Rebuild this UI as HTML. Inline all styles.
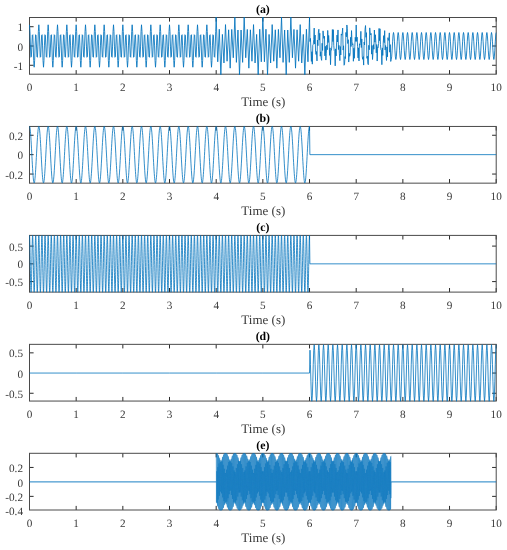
<!DOCTYPE html>
<html><head><meta charset="utf-8"><title>Signal components</title>
<style>
html,body{margin:0;padding:0;background:#fff;}
svg{display:block;}
text{font-family:"Liberation Serif",serif;fill:#3a3a3a;text-rendering:geometricPrecision;}
.tk{font-size:11.2px;}
.lb{font-size:13px;}
.tt{font-size:11.8px;font-weight:bold;fill:#000;}
.ax{fill:none;stroke:#4a4a4a;stroke-width:1.0;}
.tkm{fill:none;stroke:#2a2a2a;stroke-width:1.0;}
.ln{fill:none;stroke:#0072BD;stroke-width:0.9;stroke-linejoin:round;}
</style></head><body>
<svg width="507" height="550" viewBox="0 0 507 550">
<rect width="507" height="550" fill="#fff"/>
<g id="ax0">
<clipPath id="cp0"><rect x="29.0" y="16.90" width="467.7" height="57.90"/></clipPath>
<path class="tkm" d="M29.50 74.20v-4.1M29.50 17.50v4.1M76.17 74.20v-4.1M76.17 17.50v4.1M122.84 74.20v-4.1M122.84 17.50v4.1M169.51 74.20v-4.1M169.51 17.50v4.1M216.18 74.20v-4.1M216.18 17.50v4.1M262.85 74.20v-4.1M262.85 17.50v4.1M309.52 74.20v-4.1M309.52 17.50v4.1M356.19 74.20v-4.1M356.19 17.50v4.1M402.86 74.20v-4.1M402.86 17.50v4.1M449.53 74.20v-4.1M449.53 17.50v4.1M496.20 74.20v-4.1M496.20 17.50v4.1M29.50 26.72h4.1M496.20 26.72h-4.1M29.50 46.00h4.1M496.20 46.00h-4.1M29.50 65.28h4.1M496.20 65.28h-4.1"/>
<rect class="ax" x="29.5" y="17.50" width="466.70" height="56.70"/>
<g clip-path="url(#cp0)"><path class="ln" style="stroke-width:0.85" d="M29.50 24.79 L29.97 31.43 L30.43 46.09 L30.90 57.27 L31.37 56.69 L31.83 46.00 L32.30 35.31 L32.77 34.73 L33.23 45.91 L33.70 60.57 L34.17 67.21 L34.63 60.57 L35.10 45.91 L35.57 34.73 L36.03 35.31 L36.50 46.00 L36.97 56.69 L37.43 57.27 L37.90 46.09 L38.37 31.43 L38.83 24.79 L39.30 31.43 L39.77 46.09 L40.23 57.27 L40.70 56.69 L41.17 46.00 L41.63 35.31 L42.10 34.73 L42.57 45.91 L43.03 60.57 L43.50 67.21 L43.97 60.57 L44.43 45.91 L44.90 34.73 L45.37 35.31 L45.83 46.00 L46.30 56.69 L46.77 57.27 L47.23 46.09 L47.70 31.43 L48.17 24.79 L48.63 31.43 L49.10 46.09 L49.57 57.27 L50.03 56.69 L50.50 46.00 L50.97 35.31 L51.43 34.73 L51.90 45.91 L52.37 60.57 L52.84 67.21 L53.30 60.57 L53.77 45.91 L54.24 34.73 L54.70 35.31 L55.17 46.00 L55.64 56.69 L56.10 57.27 L56.57 46.09 L57.04 31.43 L57.50 24.79 L57.97 31.43 L58.44 46.09 L58.90 57.27 L59.37 56.69 L59.84 46.00 L60.30 35.31 L60.77 34.73 L61.24 45.91 L61.70 60.57 L62.17 67.21 L62.64 60.57 L63.10 45.91 L63.57 34.73 L64.04 35.31 L64.50 46.00 L64.97 56.69 L65.44 57.27 L65.90 46.09 L66.37 31.43 L66.84 24.79 L67.30 31.43 L67.77 46.09 L68.24 57.27 L68.70 56.69 L69.17 46.00 L69.64 35.31 L70.10 34.73 L70.57 45.91 L71.04 60.57 L71.50 67.21 L71.97 60.57 L72.44 45.91 L72.90 34.73 L73.37 35.31 L73.84 46.00 L74.30 56.69 L74.77 57.27 L75.24 46.09 L75.70 31.43 L76.17 24.79 L76.64 31.43 L77.10 46.09 L77.57 57.27 L78.04 56.69 L78.50 46.00 L78.97 35.31 L79.44 34.73 L79.90 45.91 L80.37 60.57 L80.84 67.21 L81.30 60.57 L81.77 45.91 L82.24 34.73 L82.70 35.31 L83.17 46.00 L83.64 56.69 L84.10 57.27 L84.57 46.09 L85.04 31.43 L85.50 24.79 L85.97 31.43 L86.44 46.09 L86.90 57.27 L87.37 56.69 L87.84 46.00 L88.30 35.31 L88.77 34.73 L89.24 45.91 L89.70 60.57 L90.17 67.21 L90.64 60.57 L91.10 45.91 L91.57 34.73 L92.04 35.31 L92.50 46.00 L92.97 56.69 L93.44 57.27 L93.90 46.09 L94.37 31.43 L94.84 24.79 L95.30 31.43 L95.77 46.09 L96.24 57.27 L96.70 56.69 L97.17 46.00 L97.64 35.31 L98.10 34.73 L98.57 45.91 L99.04 60.57 L99.50 67.21 L99.97 60.57 L100.44 45.91 L100.91 34.73 L101.37 35.31 L101.84 46.00 L102.31 56.69 L102.77 57.27 L103.24 46.09 L103.71 31.43 L104.17 24.79 L104.64 31.43 L105.11 46.09 L105.57 57.27 L106.04 56.69 L106.51 46.00 L106.97 35.31 L107.44 34.73 L107.91 45.91 L108.37 60.57 L108.84 67.21 L109.31 60.57 L109.77 45.91 L110.24 34.73 L110.71 35.31 L111.17 46.00 L111.64 56.69 L112.11 57.27 L112.57 46.09 L113.04 31.43 L113.51 24.79 L113.97 31.43 L114.44 46.09 L114.91 57.27 L115.37 56.69 L115.84 46.00 L116.31 35.31 L116.77 34.73 L117.24 45.91 L117.71 60.57 L118.17 67.21 L118.64 60.57 L119.11 45.91 L119.57 34.73 L120.04 35.31 L120.51 46.00 L120.97 56.69 L121.44 57.27 L121.91 46.09 L122.37 31.43 L122.84 24.79 L123.31 31.43 L123.77 46.09 L124.24 57.27 L124.71 56.69 L125.17 46.00 L125.64 35.31 L126.11 34.73 L126.57 45.91 L127.04 60.57 L127.51 67.21 L127.97 60.57 L128.44 45.91 L128.91 34.73 L129.37 35.31 L129.84 46.00 L130.31 56.69 L130.77 57.27 L131.24 46.09 L131.71 31.43 L132.17 24.79 L132.64 31.43 L133.11 46.09 L133.57 57.27 L134.04 56.69 L134.51 46.00 L134.97 35.31 L135.44 34.73 L135.91 45.91 L136.37 60.57 L136.84 67.21 L137.31 60.57 L137.77 45.91 L138.24 34.73 L138.71 35.31 L139.17 46.00 L139.64 56.69 L140.11 57.27 L140.57 46.09 L141.04 31.43 L141.51 24.79 L141.97 31.43 L142.44 46.09 L142.91 57.27 L143.37 56.69 L143.84 46.00 L144.31 35.31 L144.77 34.73 L145.24 45.91 L145.71 60.57 L146.18 67.21 L146.64 60.57 L147.11 45.91 L147.58 34.73 L148.04 35.31 L148.51 46.00 L148.98 56.69 L149.44 57.27 L149.91 46.09 L150.38 31.43 L150.84 24.79 L151.31 31.43 L151.78 46.09 L152.24 57.27 L152.71 56.69 L153.18 46.00 L153.64 35.31 L154.11 34.73 L154.58 45.91 L155.04 60.57 L155.51 67.21 L155.98 60.57 L156.44 45.91 L156.91 34.73 L157.38 35.31 L157.84 46.00 L158.31 56.69 L158.78 57.27 L159.24 46.09 L159.71 31.43 L160.18 24.79 L160.64 31.43 L161.11 46.09 L161.58 57.27 L162.04 56.69 L162.51 46.00 L162.98 35.31 L163.44 34.73 L163.91 45.91 L164.38 60.57 L164.84 67.21 L165.31 60.57 L165.78 45.91 L166.24 34.73 L166.71 35.31 L167.18 46.00 L167.64 56.69 L168.11 57.27 L168.58 46.09 L169.04 31.43 L169.51 24.79 L169.98 31.43 L170.44 46.09 L170.91 57.27 L171.38 56.69 L171.84 46.00 L172.31 35.31 L172.78 34.73 L173.24 45.91 L173.71 60.57 L174.18 67.21 L174.64 60.57 L175.11 45.91 L175.58 34.73 L176.04 35.31 L176.51 46.00 L176.98 56.69 L177.44 57.27 L177.91 46.09 L178.38 31.43 L178.84 24.79 L179.31 31.43 L179.78 46.09 L180.24 57.27 L180.71 56.69 L181.18 46.00 L181.64 35.31 L182.11 34.73 L182.58 45.91 L183.04 60.57 L183.51 67.21 L183.98 60.57 L184.44 45.91 L184.91 34.73 L185.38 35.31 L185.84 46.00 L186.31 56.69 L186.78 57.27 L187.24 46.09 L187.71 31.43 L188.18 24.79 L188.64 31.43 L189.11 46.09 L189.58 57.27 L190.04 56.69 L190.51 46.00 L190.98 35.31 L191.44 34.73 L191.91 45.91 L192.38 60.57 L192.84 67.21 L193.31 60.57 L193.78 45.91 L194.25 34.73 L194.71 35.31 L195.18 46.00 L195.65 56.69 L196.11 57.27 L196.58 46.09 L197.05 31.43 L197.51 24.79 L197.98 31.43 L198.45 46.09 L198.91 57.27 L199.38 56.69 L199.85 46.00 L200.31 35.31 L200.78 34.73 L201.25 45.91 L201.71 60.57 L202.18 67.21 L202.65 60.57 L203.11 45.91 L203.58 34.73 L204.05 35.31 L204.51 46.00 L204.98 56.69 L205.45 57.27 L205.91 46.09 L206.38 31.43 L206.85 24.79 L207.31 31.43 L207.78 46.09 L208.25 57.27 L208.71 56.69 L209.18 46.00 L209.65 35.31 L210.11 34.73 L210.58 45.91 L211.05 60.57 L211.51 67.21 L211.98 60.57 L212.45 45.91 L212.91 34.73 L213.38 35.31 L213.85 46.00 L214.31 56.69 L214.78 57.27 L215.25 46.09 L215.71 31.43 L216.18 17.08 L217.74 61.81 L219.29 29.23 L220.85 74.92 L222.40 34.43 L223.96 62.97 L225.51 24.60 L227.07 61.23 L228.63 29.80 L230.18 68.17 L231.74 29.42 L233.29 57.76 L234.85 17.08 L236.40 62.39 L237.96 30.00 L239.51 74.92 L241.07 30.00 L242.63 62.39 L244.18 17.08 L245.74 57.76 L247.29 29.42 L248.85 68.17 L250.40 29.80 L251.96 61.23 L253.52 24.60 L255.07 62.97 L256.63 34.43 L258.18 74.92 L259.74 29.23 L261.29 61.81 L262.85 17.08 L264.41 61.81 L265.96 29.23 L267.52 74.92 L269.07 34.43 L270.63 62.97 L272.18 24.60 L273.74 61.23 L275.30 29.80 L276.85 68.17 L278.41 29.42 L279.96 57.76 L281.52 17.08 L283.07 62.39 L284.63 30.00 L286.19 74.92 L287.74 30.00 L289.30 62.39 L290.85 17.08 L292.41 57.76 L293.96 29.42 L295.52 68.17 L297.07 29.80 L298.63 61.23 L300.19 24.60 L301.74 62.97 L303.30 34.43 L304.85 74.92 L306.41 29.23 L307.96 61.81 L309.52 17.08 L309.99 41.55 L310.45 38.39 L310.92 48.90 L311.39 61.42 L311.85 51.70 L312.32 64.15 L312.79 45.22 L313.25 44.30 L313.72 39.51 L314.19 28.07 L314.65 44.08 L315.12 35.07 L315.59 52.26 L316.05 54.47 L316.52 51.53 L316.99 60.90 L317.45 40.04 L317.92 45.68 L318.39 32.03 L318.85 29.23 L319.32 40.12 L319.79 33.26 L320.25 56.20 L320.72 51.82 L321.19 58.52 L321.65 60.36 L322.12 43.25 L322.59 50.46 L323.05 30.87 L323.52 36.90 L323.99 38.44 L324.45 36.16 L324.92 55.85 L325.39 46.36 L325.85 60.07 L326.32 53.22 L326.79 45.17 L327.25 49.69 L327.72 30.42 L328.19 42.51 L328.65 35.45 L329.12 42.12 L329.59 55.36 L330.05 47.88 L330.52 64.70 L330.99 50.20 L331.45 50.20 L331.92 45.25 L332.39 29.57 L332.86 41.55 L333.32 29.68 L333.79 45.65 L334.26 50.96 L334.72 51.25 L335.19 65.86 L335.66 48.87 L336.12 55.92 L336.59 42.14 L337.06 35.04 L337.52 41.93 L337.99 29.95 L338.46 49.51 L338.92 45.35 L339.39 53.69 L339.86 60.65 L340.32 46.54 L340.79 54.97 L341.26 33.96 L341.72 35.19 L342.19 33.24 L342.66 28.11 L343.12 50.06 L343.59 45.77 L344.06 65.24 L344.52 64.30 L344.99 56.64 L345.46 58.52 L345.92 32.48 L346.39 36.84 L346.86 24.98 L347.32 28.36 L347.79 43.50 L348.26 39.71 L348.72 62.06 L349.19 53.26 L349.66 56.28 L350.12 54.26 L350.59 37.31 L351.06 46.52 L351.52 30.58 L351.99 41.44 L352.46 44.74 L352.92 43.81 L353.39 61.25 L353.86 48.23 L354.32 58.30 L354.79 46.70 L355.26 37.31 L355.72 41.39 L356.19 24.98 L356.66 41.36 L357.12 37.18 L357.59 46.45 L358.06 57.95 L358.52 47.85 L358.99 60.97 L359.46 43.82 L359.92 45.11 L360.39 42.11 L360.86 31.35 L361.32 47.53 L361.79 38.94 L362.26 56.67 L362.72 59.31 L363.19 56.54 L363.66 65.08 L364.12 42.05 L364.59 45.01 L365.06 29.19 L365.52 25.56 L365.99 37.31 L366.46 32.66 L366.92 58.34 L367.39 56.18 L367.86 63.73 L368.32 64.70 L368.79 45.32 L369.26 49.74 L369.72 27.88 L370.19 33.05 L370.66 34.90 L371.12 33.44 L371.59 54.14 L372.06 45.47 L372.52 59.50 L372.99 52.66 L373.46 44.66 L373.92 49.24 L374.39 30.01 L374.86 42.13 L375.32 34.75 L375.79 40.60 L376.26 52.83 L376.72 44.53 L377.19 61.04 L377.66 46.81 L378.12 47.51 L378.59 43.42 L379.06 28.44 L379.52 40.68 L379.99 28.79 L380.46 44.68 L380.93 49.90 L381.39 50.12 L381.86 64.70 L382.33 47.90 L382.79 55.43 L383.26 42.24 L383.73 35.62 L384.19 42.71 L384.66 30.63 L385.13 49.95 L385.59 45.49 L386.06 53.58 L386.53 60.46 L386.99 46.91 L387.46 56.84 L387.93 37.68 L388.39 40.40 L388.86 39.02 L389.33 32.88 L389.79 52.19 L390.26 44.62 L390.73 61.45 L391.19 59.50 L391.66 56.92 L392.13 50.17 L392.59 41.83 L393.06 35.08 L393.53 32.50 L393.99 35.08 L394.46 41.83 L394.93 50.17 L395.39 56.92 L395.86 59.50 L396.33 56.92 L396.79 50.17 L397.26 41.83 L397.73 35.08 L398.19 32.50 L398.66 35.08 L399.13 41.83 L399.59 50.17 L400.06 56.92 L400.53 59.50 L400.99 56.92 L401.46 50.17 L401.93 41.83 L402.39 35.08 L402.86 32.50 L403.33 35.08 L403.79 41.83 L404.26 50.17 L404.73 56.92 L405.19 59.50 L405.66 56.92 L406.13 50.17 L406.59 41.83 L407.06 35.08 L407.53 32.50 L407.99 35.08 L408.46 41.83 L408.93 50.17 L409.39 56.92 L409.86 59.50 L410.33 56.92 L410.79 50.17 L411.26 41.83 L411.73 35.08 L412.19 32.50 L412.66 35.08 L413.13 41.83 L413.59 50.17 L414.06 56.92 L414.53 59.50 L414.99 56.92 L415.46 50.17 L415.93 41.83 L416.39 35.08 L416.86 32.50 L417.33 35.08 L417.79 41.83 L418.26 50.17 L418.73 56.92 L419.19 59.50 L419.66 56.92 L420.13 50.17 L420.59 41.83 L421.06 35.08 L421.53 32.50 L421.99 35.08 L422.46 41.83 L422.93 50.17 L423.39 56.92 L423.86 59.50 L424.33 56.92 L424.79 50.17 L425.26 41.83 L425.73 35.08 L426.19 32.50 L426.66 35.08 L427.13 41.83 L427.60 50.17 L428.06 56.92 L428.53 59.50 L429.00 56.92 L429.46 50.17 L429.93 41.83 L430.40 35.08 L430.86 32.50 L431.33 35.08 L431.80 41.83 L432.26 50.17 L432.73 56.92 L433.20 59.50 L433.66 56.92 L434.13 50.17 L434.60 41.83 L435.06 35.08 L435.53 32.50 L436.00 35.08 L436.46 41.83 L436.93 50.17 L437.40 56.92 L437.86 59.50 L438.33 56.92 L438.80 50.17 L439.26 41.83 L439.73 35.08 L440.20 32.50 L440.66 35.08 L441.13 41.83 L441.60 50.17 L442.06 56.92 L442.53 59.50 L443.00 56.92 L443.46 50.17 L443.93 41.83 L444.40 35.08 L444.86 32.50 L445.33 35.08 L445.80 41.83 L446.26 50.17 L446.73 56.92 L447.20 59.50 L447.66 56.92 L448.13 50.17 L448.60 41.83 L449.06 35.08 L449.53 32.50 L450.00 35.08 L450.46 41.83 L450.93 50.17 L451.40 56.92 L451.86 59.50 L452.33 56.92 L452.80 50.17 L453.26 41.83 L453.73 35.08 L454.20 32.50 L454.66 35.08 L455.13 41.83 L455.60 50.17 L456.06 56.92 L456.53 59.50 L457.00 56.92 L457.46 50.17 L457.93 41.83 L458.40 35.08 L458.86 32.50 L459.33 35.08 L459.80 41.83 L460.26 50.17 L460.73 56.92 L461.20 59.50 L461.66 56.92 L462.13 50.17 L462.60 41.83 L463.06 35.08 L463.53 32.50 L464.00 35.08 L464.46 41.83 L464.93 50.17 L465.40 56.92 L465.86 59.50 L466.33 56.92 L466.80 50.17 L467.26 41.83 L467.73 35.08 L468.20 32.50 L468.66 35.08 L469.13 41.83 L469.60 50.17 L470.06 56.92 L470.53 59.50 L471.00 56.92 L471.46 50.17 L471.93 41.83 L472.40 35.08 L472.86 32.50 L473.33 35.08 L473.80 41.83 L474.27 50.17 L474.73 56.92 L475.20 59.50 L475.67 56.92 L476.13 50.17 L476.60 41.83 L477.07 35.08 L477.53 32.50 L478.00 35.08 L478.47 41.83 L478.93 50.17 L479.40 56.92 L479.87 59.50 L480.33 56.92 L480.80 50.17 L481.27 41.83 L481.73 35.08 L482.20 32.50 L482.67 35.08 L483.13 41.83 L483.60 50.17 L484.07 56.92 L484.53 59.50 L485.00 56.92 L485.47 50.17 L485.93 41.83 L486.40 35.08 L486.87 32.50 L487.33 35.08 L487.80 41.83 L488.27 50.17 L488.73 56.92 L489.20 59.50 L489.67 56.92 L490.13 50.17 L490.60 41.83 L491.07 35.08 L491.53 32.50 L492.00 35.08 L492.47 41.83 L492.93 50.17 L493.40 56.92 L493.87 59.50 L494.33 56.92 L494.80 50.17 L495.27 41.83 L495.73 35.08 L496.20 32.50"/></g>
<text class="tk" text-anchor="middle" x="29.50" y="90.70">0</text>
<text class="tk" text-anchor="middle" x="76.17" y="90.70">1</text>
<text class="tk" text-anchor="middle" x="122.84" y="90.70">2</text>
<text class="tk" text-anchor="middle" x="169.51" y="90.70">3</text>
<text class="tk" text-anchor="middle" x="216.18" y="90.70">4</text>
<text class="tk" text-anchor="middle" x="262.85" y="90.70">5</text>
<text class="tk" text-anchor="middle" x="309.52" y="90.70">6</text>
<text class="tk" text-anchor="middle" x="356.19" y="90.70">7</text>
<text class="tk" text-anchor="middle" x="402.86" y="90.70">8</text>
<text class="tk" text-anchor="middle" x="449.53" y="90.70">9</text>
<text class="tk" text-anchor="middle" x="496.20" y="90.70">10</text>
<text class="tk" text-anchor="end" x="23.0" y="31.32">1</text>
<text class="tk" text-anchor="end" x="23.0" y="50.60">0</text>
<text class="tk" text-anchor="end" x="23.0" y="69.88">-1</text>
<text class="lb" text-anchor="middle" x="263.35" y="106.40">Time (s)</text>
<text class="tt" text-anchor="middle" x="262.85" y="13.30">(a)</text>
</g>
<g id="ax1">
<clipPath id="cp1"><rect x="29.0" y="125.85" width="467.7" height="57.90"/></clipPath>
<path class="tkm" d="M29.50 183.15v-4.1M29.50 126.45v4.1M76.17 183.15v-4.1M76.17 126.45v4.1M122.84 183.15v-4.1M122.84 126.45v4.1M169.51 183.15v-4.1M169.51 126.45v4.1M216.18 183.15v-4.1M216.18 126.45v4.1M262.85 183.15v-4.1M262.85 126.45v4.1M309.52 183.15v-4.1M309.52 126.45v4.1M356.19 183.15v-4.1M356.19 126.45v4.1M402.86 183.15v-4.1M402.86 126.45v4.1M449.53 183.15v-4.1M449.53 126.45v4.1M496.20 183.15v-4.1M496.20 126.45v4.1M29.50 135.25h4.1M496.20 135.25h-4.1M29.50 154.65h4.1M29.50 174.05h4.1M496.20 174.05h-4.1"/>
<rect class="ax" x="29.5" y="126.45" width="466.70" height="56.70"/>
<g clip-path="url(#cp1)"><path class="ln" style="stroke-width:0.8" d="M29.50 126.33 L29.72 126.64 L29.94 127.57 L30.16 129.10 L30.38 131.20 L30.61 133.82 L30.83 136.90 L31.05 140.37 L31.27 144.15 L31.49 148.17 L31.71 152.33 L31.93 156.55 L32.15 160.72 L32.38 164.75 L32.60 168.57 L32.82 172.07 L33.04 175.19 L33.26 177.86 L33.48 180.01 L33.70 181.60 L33.92 182.59 L34.14 182.97 L34.37 182.72 L34.59 181.85 L34.81 180.37 L35.03 178.33 L35.25 175.76 L35.47 172.73 L35.69 169.30 L35.91 165.54 L36.14 161.54 L36.36 157.39 L36.58 153.17 L36.80 149.00 L37.02 144.94 L37.24 141.10 L37.46 137.56 L37.68 134.40 L37.91 131.69 L38.13 129.48 L38.35 127.83 L38.57 126.78 L38.79 126.34 L39.01 126.53 L39.23 127.34 L39.45 128.75 L39.67 130.74 L39.90 133.26 L40.12 136.25 L40.34 139.64 L40.56 143.37 L40.78 147.35 L41.00 151.49 L41.22 155.70 L41.44 159.89 L41.67 163.96 L41.89 167.83 L42.11 171.40 L42.33 174.60 L42.55 177.36 L42.77 179.62 L42.99 181.33 L43.21 182.45 L43.43 182.95 L43.66 182.82 L43.88 182.07 L44.10 180.72 L44.32 178.78 L44.54 176.32 L44.76 173.37 L44.98 170.01 L45.20 166.31 L45.43 162.35 L45.65 158.23 L45.87 154.02 L46.09 149.82 L46.31 145.74 L46.53 141.85 L46.75 138.24 L46.97 135.00 L47.19 132.19 L47.42 129.88 L47.64 128.12 L47.86 126.94 L48.08 126.38 L48.30 126.44 L48.52 127.13 L48.74 128.42 L48.96 130.30 L49.19 132.71 L49.41 135.61 L49.63 138.94 L49.85 142.61 L50.07 146.54 L50.29 150.66 L50.51 154.86 L50.73 159.06 L50.95 163.16 L51.18 167.07 L51.40 170.71 L51.62 174.00 L51.84 176.85 L52.06 179.21 L52.28 181.03 L52.50 182.27 L52.72 182.90 L52.95 182.90 L53.17 182.27 L53.39 181.03 L53.61 179.21 L53.83 176.85 L54.05 174.00 L54.27 170.71 L54.49 167.07 L54.72 163.16 L54.94 159.06 L55.16 154.86 L55.38 150.66 L55.60 146.54 L55.82 142.61 L56.04 138.94 L56.26 135.61 L56.48 132.71 L56.71 130.30 L56.93 128.42 L57.15 127.13 L57.37 126.44 L57.59 126.38 L57.81 126.94 L58.03 128.12 L58.25 129.88 L58.48 132.19 L58.70 135.00 L58.92 138.24 L59.14 141.85 L59.36 145.74 L59.58 149.82 L59.80 154.02 L60.02 158.23 L60.24 162.35 L60.47 166.31 L60.69 170.01 L60.91 173.37 L61.13 176.32 L61.35 178.78 L61.57 180.72 L61.79 182.07 L62.01 182.82 L62.24 182.95 L62.46 182.45 L62.68 181.33 L62.90 179.62 L63.12 177.36 L63.34 174.60 L63.56 171.40 L63.78 167.83 L64.00 163.96 L64.23 159.89 L64.45 155.70 L64.67 151.49 L64.89 147.35 L65.11 143.37 L65.33 139.64 L65.55 136.25 L65.77 133.26 L66.00 130.74 L66.22 128.75 L66.44 127.34 L66.66 126.53 L66.88 126.34 L67.10 126.78 L67.32 127.83 L67.54 129.48 L67.76 131.69 L67.99 134.40 L68.21 137.56 L68.43 141.10 L68.65 144.94 L68.87 149.00 L69.09 153.17 L69.31 157.39 L69.53 161.54 L69.76 165.54 L69.98 169.30 L70.20 172.73 L70.42 175.76 L70.64 178.33 L70.86 180.37 L71.08 181.85 L71.30 182.72 L71.53 182.97 L71.75 182.59 L71.97 181.60 L72.19 180.01 L72.41 177.86 L72.63 175.19 L72.85 172.07 L73.07 168.57 L73.29 164.75 L73.52 160.72 L73.74 156.55 L73.96 152.33 L74.18 148.17 L74.40 144.15 L74.62 140.37 L74.84 136.90 L75.06 133.82 L75.29 131.20 L75.51 129.10 L75.73 127.57 L75.95 126.64 L76.17 126.33 L76.39 126.64 L76.61 127.57 L76.83 129.10 L77.05 131.20 L77.28 133.82 L77.50 136.90 L77.72 140.37 L77.94 144.15 L78.16 148.17 L78.38 152.33 L78.60 156.55 L78.82 160.72 L79.05 164.75 L79.27 168.57 L79.49 172.07 L79.71 175.19 L79.93 177.86 L80.15 180.01 L80.37 181.60 L80.59 182.59 L80.81 182.97 L81.04 182.72 L81.26 181.85 L81.48 180.37 L81.70 178.33 L81.92 175.76 L82.14 172.73 L82.36 169.30 L82.58 165.54 L82.81 161.54 L83.03 157.39 L83.25 153.17 L83.47 149.00 L83.69 144.94 L83.91 141.10 L84.13 137.56 L84.35 134.40 L84.58 131.69 L84.80 129.48 L85.02 127.83 L85.24 126.78 L85.46 126.34 L85.68 126.53 L85.90 127.34 L86.12 128.75 L86.34 130.74 L86.57 133.26 L86.79 136.25 L87.01 139.64 L87.23 143.37 L87.45 147.35 L87.67 151.49 L87.89 155.70 L88.11 159.89 L88.34 163.96 L88.56 167.83 L88.78 171.40 L89.00 174.60 L89.22 177.36 L89.44 179.62 L89.66 181.33 L89.88 182.45 L90.10 182.95 L90.33 182.82 L90.55 182.07 L90.77 180.72 L90.99 178.78 L91.21 176.32 L91.43 173.37 L91.65 170.01 L91.87 166.31 L92.10 162.35 L92.32 158.23 L92.54 154.02 L92.76 149.82 L92.98 145.74 L93.20 141.85 L93.42 138.24 L93.64 135.00 L93.86 132.19 L94.09 129.88 L94.31 128.12 L94.53 126.94 L94.75 126.38 L94.97 126.44 L95.19 127.13 L95.41 128.42 L95.63 130.30 L95.86 132.71 L96.08 135.61 L96.30 138.94 L96.52 142.61 L96.74 146.54 L96.96 150.66 L97.18 154.86 L97.40 159.06 L97.62 163.16 L97.85 167.07 L98.07 170.71 L98.29 174.00 L98.51 176.85 L98.73 179.21 L98.95 181.03 L99.17 182.27 L99.39 182.90 L99.62 182.90 L99.84 182.27 L100.06 181.03 L100.28 179.21 L100.50 176.85 L100.72 174.00 L100.94 170.71 L101.16 167.07 L101.39 163.16 L101.61 159.06 L101.83 154.86 L102.05 150.66 L102.27 146.54 L102.49 142.61 L102.71 138.94 L102.93 135.61 L103.15 132.71 L103.38 130.30 L103.60 128.42 L103.82 127.13 L104.04 126.44 L104.26 126.38 L104.48 126.94 L104.70 128.12 L104.92 129.88 L105.15 132.19 L105.37 135.00 L105.59 138.24 L105.81 141.85 L106.03 145.74 L106.25 149.82 L106.47 154.02 L106.69 158.23 L106.91 162.35 L107.14 166.31 L107.36 170.01 L107.58 173.37 L107.80 176.32 L108.02 178.78 L108.24 180.72 L108.46 182.07 L108.68 182.82 L108.91 182.95 L109.13 182.45 L109.35 181.33 L109.57 179.62 L109.79 177.36 L110.01 174.60 L110.23 171.40 L110.45 167.83 L110.67 163.96 L110.90 159.89 L111.12 155.70 L111.34 151.49 L111.56 147.35 L111.78 143.37 L112.00 139.64 L112.22 136.25 L112.44 133.26 L112.67 130.74 L112.89 128.75 L113.11 127.34 L113.33 126.53 L113.55 126.34 L113.77 126.78 L113.99 127.83 L114.21 129.48 L114.43 131.69 L114.66 134.40 L114.88 137.56 L115.10 141.10 L115.32 144.94 L115.54 149.00 L115.76 153.17 L115.98 157.39 L116.20 161.54 L116.43 165.54 L116.65 169.30 L116.87 172.73 L117.09 175.76 L117.31 178.33 L117.53 180.37 L117.75 181.85 L117.97 182.72 L118.20 182.97 L118.42 182.59 L118.64 181.60 L118.86 180.01 L119.08 177.86 L119.30 175.19 L119.52 172.07 L119.74 168.57 L119.96 164.75 L120.19 160.72 L120.41 156.55 L120.63 152.33 L120.85 148.17 L121.07 144.15 L121.29 140.37 L121.51 136.90 L121.73 133.82 L121.96 131.20 L122.18 129.10 L122.40 127.57 L122.62 126.64 L122.84 126.33 L123.06 126.64 L123.28 127.57 L123.50 129.10 L123.72 131.20 L123.95 133.82 L124.17 136.90 L124.39 140.37 L124.61 144.15 L124.83 148.17 L125.05 152.33 L125.27 156.55 L125.49 160.72 L125.72 164.75 L125.94 168.57 L126.16 172.07 L126.38 175.19 L126.60 177.86 L126.82 180.01 L127.04 181.60 L127.26 182.59 L127.48 182.97 L127.71 182.72 L127.93 181.85 L128.15 180.37 L128.37 178.33 L128.59 175.76 L128.81 172.73 L129.03 169.30 L129.25 165.54 L129.48 161.54 L129.70 157.39 L129.92 153.17 L130.14 149.00 L130.36 144.94 L130.58 141.10 L130.80 137.56 L131.02 134.40 L131.25 131.69 L131.47 129.48 L131.69 127.83 L131.91 126.78 L132.13 126.34 L132.35 126.53 L132.57 127.34 L132.79 128.75 L133.01 130.74 L133.24 133.26 L133.46 136.25 L133.68 139.64 L133.90 143.37 L134.12 147.35 L134.34 151.49 L134.56 155.70 L134.78 159.89 L135.01 163.96 L135.23 167.83 L135.45 171.40 L135.67 174.60 L135.89 177.36 L136.11 179.62 L136.33 181.33 L136.55 182.45 L136.77 182.95 L137.00 182.82 L137.22 182.07 L137.44 180.72 L137.66 178.78 L137.88 176.32 L138.10 173.37 L138.32 170.01 L138.54 166.31 L138.77 162.35 L138.99 158.23 L139.21 154.02 L139.43 149.82 L139.65 145.74 L139.87 141.85 L140.09 138.24 L140.31 135.00 L140.53 132.19 L140.76 129.88 L140.98 128.12 L141.20 126.94 L141.42 126.38 L141.64 126.44 L141.86 127.13 L142.08 128.42 L142.30 130.30 L142.53 132.71 L142.75 135.61 L142.97 138.94 L143.19 142.61 L143.41 146.54 L143.63 150.66 L143.85 154.86 L144.07 159.06 L144.29 163.16 L144.52 167.07 L144.74 170.71 L144.96 174.00 L145.18 176.85 L145.40 179.21 L145.62 181.03 L145.84 182.27 L146.06 182.90 L146.29 182.90 L146.51 182.27 L146.73 181.03 L146.95 179.21 L147.17 176.85 L147.39 174.00 L147.61 170.71 L147.83 167.07 L148.06 163.16 L148.28 159.06 L148.50 154.86 L148.72 150.66 L148.94 146.54 L149.16 142.61 L149.38 138.94 L149.60 135.61 L149.82 132.71 L150.05 130.30 L150.27 128.42 L150.49 127.13 L150.71 126.44 L150.93 126.38 L151.15 126.94 L151.37 128.12 L151.59 129.88 L151.82 132.19 L152.04 135.00 L152.26 138.24 L152.48 141.85 L152.70 145.74 L152.92 149.82 L153.14 154.02 L153.36 158.23 L153.58 162.35 L153.81 166.31 L154.03 170.01 L154.25 173.37 L154.47 176.32 L154.69 178.78 L154.91 180.72 L155.13 182.07 L155.35 182.82 L155.58 182.95 L155.80 182.45 L156.02 181.33 L156.24 179.62 L156.46 177.36 L156.68 174.60 L156.90 171.40 L157.12 167.83 L157.34 163.96 L157.57 159.89 L157.79 155.70 L158.01 151.49 L158.23 147.35 L158.45 143.37 L158.67 139.64 L158.89 136.25 L159.11 133.26 L159.34 130.74 L159.56 128.75 L159.78 127.34 L160.00 126.53 L160.22 126.34 L160.44 126.78 L160.66 127.83 L160.88 129.48 L161.10 131.69 L161.33 134.40 L161.55 137.56 L161.77 141.10 L161.99 144.94 L162.21 149.00 L162.43 153.17 L162.65 157.39 L162.87 161.54 L163.10 165.54 L163.32 169.30 L163.54 172.73 L163.76 175.76 L163.98 178.33 L164.20 180.37 L164.42 181.85 L164.64 182.72 L164.87 182.97 L165.09 182.59 L165.31 181.60 L165.53 180.01 L165.75 177.86 L165.97 175.19 L166.19 172.07 L166.41 168.57 L166.63 164.75 L166.86 160.72 L167.08 156.55 L167.30 152.33 L167.52 148.17 L167.74 144.15 L167.96 140.37 L168.18 136.90 L168.40 133.82 L168.63 131.20 L168.85 129.10 L169.07 127.57 L169.29 126.64 L169.51 126.33 L169.73 126.64 L169.95 127.57 L170.17 129.10 L170.39 131.20 L170.62 133.82 L170.84 136.90 L171.06 140.37 L171.28 144.15 L171.50 148.17 L171.72 152.33 L171.94 156.55 L172.16 160.72 L172.39 164.75 L172.61 168.57 L172.83 172.07 L173.05 175.19 L173.27 177.86 L173.49 180.01 L173.71 181.60 L173.93 182.59 L174.15 182.97 L174.38 182.72 L174.60 181.85 L174.82 180.37 L175.04 178.33 L175.26 175.76 L175.48 172.73 L175.70 169.30 L175.92 165.54 L176.15 161.54 L176.37 157.39 L176.59 153.17 L176.81 149.00 L177.03 144.94 L177.25 141.10 L177.47 137.56 L177.69 134.40 L177.92 131.69 L178.14 129.48 L178.36 127.83 L178.58 126.78 L178.80 126.34 L179.02 126.53 L179.24 127.34 L179.46 128.75 L179.68 130.74 L179.91 133.26 L180.13 136.25 L180.35 139.64 L180.57 143.37 L180.79 147.35 L181.01 151.49 L181.23 155.70 L181.45 159.89 L181.68 163.96 L181.90 167.83 L182.12 171.40 L182.34 174.60 L182.56 177.36 L182.78 179.62 L183.00 181.33 L183.22 182.45 L183.44 182.95 L183.67 182.82 L183.89 182.07 L184.11 180.72 L184.33 178.78 L184.55 176.32 L184.77 173.37 L184.99 170.01 L185.21 166.31 L185.44 162.35 L185.66 158.23 L185.88 154.02 L186.10 149.82 L186.32 145.74 L186.54 141.85 L186.76 138.24 L186.98 135.00 L187.20 132.19 L187.43 129.88 L187.65 128.12 L187.87 126.94 L188.09 126.38 L188.31 126.44 L188.53 127.13 L188.75 128.42 L188.97 130.30 L189.20 132.71 L189.42 135.61 L189.64 138.94 L189.86 142.61 L190.08 146.54 L190.30 150.66 L190.52 154.86 L190.74 159.06 L190.96 163.16 L191.19 167.07 L191.41 170.71 L191.63 174.00 L191.85 176.85 L192.07 179.21 L192.29 181.03 L192.51 182.27 L192.73 182.90 L192.96 182.90 L193.18 182.27 L193.40 181.03 L193.62 179.21 L193.84 176.85 L194.06 174.00 L194.28 170.71 L194.50 167.07 L194.73 163.16 L194.95 159.06 L195.17 154.86 L195.39 150.66 L195.61 146.54 L195.83 142.61 L196.05 138.94 L196.27 135.61 L196.49 132.71 L196.72 130.30 L196.94 128.42 L197.16 127.13 L197.38 126.44 L197.60 126.38 L197.82 126.94 L198.04 128.12 L198.26 129.88 L198.49 132.19 L198.71 135.00 L198.93 138.24 L199.15 141.85 L199.37 145.74 L199.59 149.82 L199.81 154.02 L200.03 158.23 L200.25 162.35 L200.48 166.31 L200.70 170.01 L200.92 173.37 L201.14 176.32 L201.36 178.78 L201.58 180.72 L201.80 182.07 L202.02 182.82 L202.25 182.95 L202.47 182.45 L202.69 181.33 L202.91 179.62 L203.13 177.36 L203.35 174.60 L203.57 171.40 L203.79 167.83 L204.01 163.96 L204.24 159.89 L204.46 155.70 L204.68 151.49 L204.90 147.35 L205.12 143.37 L205.34 139.64 L205.56 136.25 L205.78 133.26 L206.01 130.74 L206.23 128.75 L206.45 127.34 L206.67 126.53 L206.89 126.34 L207.11 126.78 L207.33 127.83 L207.55 129.48 L207.77 131.69 L208.00 134.40 L208.22 137.56 L208.44 141.10 L208.66 144.94 L208.88 149.00 L209.10 153.17 L209.32 157.39 L209.54 161.54 L209.77 165.54 L209.99 169.30 L210.21 172.73 L210.43 175.76 L210.65 178.33 L210.87 180.37 L211.09 181.85 L211.31 182.72 L211.54 182.97 L211.76 182.59 L211.98 181.60 L212.20 180.01 L212.42 177.86 L212.64 175.19 L212.86 172.07 L213.08 168.57 L213.30 164.75 L213.53 160.72 L213.75 156.55 L213.97 152.33 L214.19 148.17 L214.41 144.15 L214.63 140.37 L214.85 136.90 L215.07 133.82 L215.30 131.20 L215.52 129.10 L215.74 127.57 L215.96 126.64 L216.18 126.33 L216.40 126.64 L216.62 127.57 L216.84 129.10 L217.06 131.20 L217.29 133.82 L217.51 136.90 L217.73 140.37 L217.95 144.15 L218.17 148.17 L218.39 152.33 L218.61 156.55 L218.83 160.72 L219.06 164.75 L219.28 168.57 L219.50 172.07 L219.72 175.19 L219.94 177.86 L220.16 180.01 L220.38 181.60 L220.60 182.59 L220.82 182.97 L221.05 182.72 L221.27 181.85 L221.49 180.37 L221.71 178.33 L221.93 175.76 L222.15 172.73 L222.37 169.30 L222.59 165.54 L222.82 161.54 L223.04 157.39 L223.26 153.17 L223.48 149.00 L223.70 144.94 L223.92 141.10 L224.14 137.56 L224.36 134.40 L224.59 131.69 L224.81 129.48 L225.03 127.83 L225.25 126.78 L225.47 126.34 L225.69 126.53 L225.91 127.34 L226.13 128.75 L226.35 130.74 L226.58 133.26 L226.80 136.25 L227.02 139.64 L227.24 143.37 L227.46 147.35 L227.68 151.49 L227.90 155.70 L228.12 159.89 L228.35 163.96 L228.57 167.83 L228.79 171.40 L229.01 174.60 L229.23 177.36 L229.45 179.62 L229.67 181.33 L229.89 182.45 L230.11 182.95 L230.34 182.82 L230.56 182.07 L230.78 180.72 L231.00 178.78 L231.22 176.32 L231.44 173.37 L231.66 170.01 L231.88 166.31 L232.11 162.35 L232.33 158.23 L232.55 154.02 L232.77 149.82 L232.99 145.74 L233.21 141.85 L233.43 138.24 L233.65 135.00 L233.87 132.19 L234.10 129.88 L234.32 128.12 L234.54 126.94 L234.76 126.38 L234.98 126.44 L235.20 127.13 L235.42 128.42 L235.64 130.30 L235.87 132.71 L236.09 135.61 L236.31 138.94 L236.53 142.61 L236.75 146.54 L236.97 150.66 L237.19 154.86 L237.41 159.06 L237.63 163.16 L237.86 167.07 L238.08 170.71 L238.30 174.00 L238.52 176.85 L238.74 179.21 L238.96 181.03 L239.18 182.27 L239.40 182.90 L239.63 182.90 L239.85 182.27 L240.07 181.03 L240.29 179.21 L240.51 176.85 L240.73 174.00 L240.95 170.71 L241.17 167.07 L241.40 163.16 L241.62 159.06 L241.84 154.86 L242.06 150.66 L242.28 146.54 L242.50 142.61 L242.72 138.94 L242.94 135.61 L243.16 132.71 L243.39 130.30 L243.61 128.42 L243.83 127.13 L244.05 126.44 L244.27 126.38 L244.49 126.94 L244.71 128.12 L244.93 129.88 L245.16 132.19 L245.38 135.00 L245.60 138.24 L245.82 141.85 L246.04 145.74 L246.26 149.82 L246.48 154.02 L246.70 158.23 L246.92 162.35 L247.15 166.31 L247.37 170.01 L247.59 173.37 L247.81 176.32 L248.03 178.78 L248.25 180.72 L248.47 182.07 L248.69 182.82 L248.92 182.95 L249.14 182.45 L249.36 181.33 L249.58 179.62 L249.80 177.36 L250.02 174.60 L250.24 171.40 L250.46 167.83 L250.68 163.96 L250.91 159.89 L251.13 155.70 L251.35 151.49 L251.57 147.35 L251.79 143.37 L252.01 139.64 L252.23 136.25 L252.45 133.26 L252.68 130.74 L252.90 128.75 L253.12 127.34 L253.34 126.53 L253.56 126.34 L253.78 126.78 L254.00 127.83 L254.22 129.48 L254.44 131.69 L254.67 134.40 L254.89 137.56 L255.11 141.10 L255.33 144.94 L255.55 149.00 L255.77 153.17 L255.99 157.39 L256.21 161.54 L256.44 165.54 L256.66 169.30 L256.88 172.73 L257.10 175.76 L257.32 178.33 L257.54 180.37 L257.76 181.85 L257.98 182.72 L258.21 182.97 L258.43 182.59 L258.65 181.60 L258.87 180.01 L259.09 177.86 L259.31 175.19 L259.53 172.07 L259.75 168.57 L259.97 164.75 L260.20 160.72 L260.42 156.55 L260.64 152.33 L260.86 148.17 L261.08 144.15 L261.30 140.37 L261.52 136.90 L261.74 133.82 L261.97 131.20 L262.19 129.10 L262.41 127.57 L262.63 126.64 L262.85 126.33 L263.07 126.64 L263.29 127.57 L263.51 129.10 L263.73 131.20 L263.96 133.82 L264.18 136.90 L264.40 140.37 L264.62 144.15 L264.84 148.17 L265.06 152.33 L265.28 156.55 L265.50 160.72 L265.73 164.75 L265.95 168.57 L266.17 172.07 L266.39 175.19 L266.61 177.86 L266.83 180.01 L267.05 181.60 L267.27 182.59 L267.49 182.97 L267.72 182.72 L267.94 181.85 L268.16 180.37 L268.38 178.33 L268.60 175.76 L268.82 172.73 L269.04 169.30 L269.26 165.54 L269.49 161.54 L269.71 157.39 L269.93 153.17 L270.15 149.00 L270.37 144.94 L270.59 141.10 L270.81 137.56 L271.03 134.40 L271.26 131.69 L271.48 129.48 L271.70 127.83 L271.92 126.78 L272.14 126.34 L272.36 126.53 L272.58 127.34 L272.80 128.75 L273.02 130.74 L273.25 133.26 L273.47 136.25 L273.69 139.64 L273.91 143.37 L274.13 147.35 L274.35 151.49 L274.57 155.70 L274.79 159.89 L275.02 163.96 L275.24 167.83 L275.46 171.40 L275.68 174.60 L275.90 177.36 L276.12 179.62 L276.34 181.33 L276.56 182.45 L276.78 182.95 L277.01 182.82 L277.23 182.07 L277.45 180.72 L277.67 178.78 L277.89 176.32 L278.11 173.37 L278.33 170.01 L278.55 166.31 L278.78 162.35 L279.00 158.23 L279.22 154.02 L279.44 149.82 L279.66 145.74 L279.88 141.85 L280.10 138.24 L280.32 135.00 L280.54 132.19 L280.77 129.88 L280.99 128.12 L281.21 126.94 L281.43 126.38 L281.65 126.44 L281.87 127.13 L282.09 128.42 L282.31 130.30 L282.54 132.71 L282.76 135.61 L282.98 138.94 L283.20 142.61 L283.42 146.54 L283.64 150.66 L283.86 154.86 L284.08 159.06 L284.30 163.16 L284.53 167.07 L284.75 170.71 L284.97 174.00 L285.19 176.85 L285.41 179.21 L285.63 181.03 L285.85 182.27 L286.07 182.90 L286.30 182.90 L286.52 182.27 L286.74 181.03 L286.96 179.21 L287.18 176.85 L287.40 174.00 L287.62 170.71 L287.84 167.07 L288.07 163.16 L288.29 159.06 L288.51 154.86 L288.73 150.66 L288.95 146.54 L289.17 142.61 L289.39 138.94 L289.61 135.61 L289.83 132.71 L290.06 130.30 L290.28 128.42 L290.50 127.13 L290.72 126.44 L290.94 126.38 L291.16 126.94 L291.38 128.12 L291.60 129.88 L291.83 132.19 L292.05 135.00 L292.27 138.24 L292.49 141.85 L292.71 145.74 L292.93 149.82 L293.15 154.02 L293.37 158.23 L293.59 162.35 L293.82 166.31 L294.04 170.01 L294.26 173.37 L294.48 176.32 L294.70 178.78 L294.92 180.72 L295.14 182.07 L295.36 182.82 L295.59 182.95 L295.81 182.45 L296.03 181.33 L296.25 179.62 L296.47 177.36 L296.69 174.60 L296.91 171.40 L297.13 167.83 L297.35 163.96 L297.58 159.89 L297.80 155.70 L298.02 151.49 L298.24 147.35 L298.46 143.37 L298.68 139.64 L298.90 136.25 L299.12 133.26 L299.35 130.74 L299.57 128.75 L299.79 127.34 L300.01 126.53 L300.23 126.34 L300.45 126.78 L300.67 127.83 L300.89 129.48 L301.11 131.69 L301.34 134.40 L301.56 137.56 L301.78 141.10 L302.00 144.94 L302.22 149.00 L302.44 153.17 L302.66 157.39 L302.88 161.54 L303.11 165.54 L303.33 169.30 L303.55 172.73 L303.77 175.76 L303.99 178.33 L304.21 180.37 L304.43 181.85 L304.65 182.72 L304.88 182.97 L305.10 182.59 L305.32 181.60 L305.54 180.01 L305.76 177.86 L305.98 175.19 L306.20 172.07 L306.42 168.57 L306.64 164.75 L306.87 160.72 L307.09 156.55 L307.31 152.33 L307.53 148.17 L307.75 144.15 L307.97 140.37 L308.19 136.90 L308.41 133.82 L308.64 131.20 L308.86 129.10 L309.08 127.57 L309.30 126.64 L309.52 126.33 L309.89 154.65 L496.20 154.65"/></g>
<text class="tk" text-anchor="middle" x="29.50" y="199.65">0</text>
<text class="tk" text-anchor="middle" x="76.17" y="199.65">1</text>
<text class="tk" text-anchor="middle" x="122.84" y="199.65">2</text>
<text class="tk" text-anchor="middle" x="169.51" y="199.65">3</text>
<text class="tk" text-anchor="middle" x="216.18" y="199.65">4</text>
<text class="tk" text-anchor="middle" x="262.85" y="199.65">5</text>
<text class="tk" text-anchor="middle" x="309.52" y="199.65">6</text>
<text class="tk" text-anchor="middle" x="356.19" y="199.65">7</text>
<text class="tk" text-anchor="middle" x="402.86" y="199.65">8</text>
<text class="tk" text-anchor="middle" x="449.53" y="199.65">9</text>
<text class="tk" text-anchor="middle" x="496.20" y="199.65">10</text>
<text class="tk" text-anchor="end" x="23.0" y="139.85">0.2</text>
<text class="tk" text-anchor="end" x="23.0" y="159.25">0</text>
<text class="tk" text-anchor="end" x="23.0" y="178.65">-0.2</text>
<text class="lb" text-anchor="middle" x="263.35" y="215.35">Time (s)</text>
<text class="tt" text-anchor="middle" x="262.85" y="122.25">(b)</text>
</g>
<g id="ax2">
<clipPath id="cp2"><rect x="29.0" y="234.80" width="467.7" height="57.90"/></clipPath>
<path class="tkm" d="M29.50 292.10v-4.1M29.50 235.40v4.1M76.17 292.10v-4.1M76.17 235.40v4.1M122.84 292.10v-4.1M122.84 235.40v4.1M169.51 292.10v-4.1M169.51 235.40v4.1M216.18 292.10v-4.1M216.18 235.40v4.1M262.85 292.10v-4.1M262.85 235.40v4.1M309.52 292.10v-4.1M309.52 235.40v4.1M356.19 292.10v-4.1M356.19 235.40v4.1M402.86 292.10v-4.1M402.86 235.40v4.1M449.53 292.10v-4.1M449.53 235.40v4.1M496.20 292.10v-4.1M496.20 235.40v4.1M29.50 246.10h4.1M496.20 246.10h-4.1M29.50 263.85h4.1M29.50 281.60h4.1M496.20 281.60h-4.1"/>
<rect class="ax" x="29.5" y="235.40" width="466.70" height="56.70"/>
<g clip-path="url(#cp2)"><path class="ln" style="stroke-width:0.8" d="M29.50 235.45 L29.56 235.68 L29.63 236.38 L29.69 237.54 L29.75 239.12 L29.82 241.12 L29.88 243.49 L29.95 246.20 L30.01 249.20 L30.07 252.44 L30.14 255.86 L30.20 259.43 L30.26 263.06 L30.33 266.71 L30.39 270.31 L30.46 273.80 L30.52 277.13 L30.58 280.24 L30.65 283.08 L30.71 285.60 L30.77 287.76 L30.84 289.53 L30.90 290.87 L30.96 291.77 L31.03 292.21 L31.09 292.17 L31.16 291.68 L31.22 290.72 L31.28 289.32 L31.35 287.49 L31.41 285.28 L31.47 282.71 L31.54 279.84 L31.60 276.69 L31.66 273.34 L31.73 269.83 L31.79 266.22 L31.86 262.57 L31.92 258.95 L31.98 255.40 L32.05 251.99 L32.11 248.78 L32.17 245.82 L32.24 243.15 L32.30 240.83 L32.37 238.89 L32.43 237.36 L32.49 236.26 L32.56 235.63 L32.62 235.45 L32.68 235.75 L32.75 236.51 L32.81 237.72 L32.87 239.37 L32.94 241.41 L33.00 243.83 L33.07 246.58 L33.13 249.61 L33.19 252.88 L33.26 256.33 L33.32 259.91 L33.38 263.55 L33.45 267.19 L33.51 270.78 L33.57 274.25 L33.64 277.56 L33.70 280.63 L33.77 283.43 L33.83 285.91 L33.89 288.02 L33.96 289.73 L34.02 291.02 L34.08 291.85 L34.15 292.23 L34.21 292.14 L34.28 291.57 L34.34 290.56 L34.40 289.10 L34.47 287.22 L34.53 284.96 L34.59 282.35 L34.66 279.43 L34.72 276.26 L34.78 272.88 L34.85 269.35 L34.91 265.74 L34.98 262.09 L35.04 258.47 L35.10 254.94 L35.17 251.55 L35.23 248.37 L35.29 245.45 L35.36 242.82 L35.42 240.55 L35.48 238.66 L35.55 237.19 L35.61 236.15 L35.68 235.58 L35.74 235.47 L35.80 235.83 L35.87 236.65 L35.93 237.92 L35.99 239.62 L36.06 241.72 L36.12 244.18 L36.19 246.97 L36.25 250.04 L36.31 253.33 L36.38 256.80 L36.44 260.39 L36.50 264.03 L36.57 267.67 L36.63 271.25 L36.69 274.70 L36.76 277.98 L36.82 281.02 L36.89 283.78 L36.95 286.21 L37.01 288.27 L37.08 289.93 L37.14 291.16 L37.20 291.93 L37.27 292.24 L37.33 292.09 L37.40 291.46 L37.46 290.39 L37.52 288.87 L37.59 286.94 L37.65 284.63 L37.71 281.98 L37.78 279.02 L37.84 275.82 L37.90 272.42 L37.97 268.87 L38.03 265.25 L38.10 261.60 L38.16 257.99 L38.22 254.47 L38.29 251.11 L38.35 247.96 L38.41 245.08 L38.48 242.50 L38.54 240.27 L38.60 238.44 L38.67 237.02 L38.73 236.05 L38.80 235.53 L38.86 235.49 L38.92 235.91 L38.99 236.79 L39.05 238.12 L39.11 239.88 L39.18 242.02 L39.24 244.54 L39.31 247.36 L39.37 250.47 L39.43 253.79 L39.50 257.28 L39.56 260.87 L39.62 264.52 L39.69 268.15 L39.75 271.72 L39.81 275.15 L39.88 278.40 L39.94 281.41 L40.01 284.12 L40.07 286.51 L40.13 288.52 L40.20 290.12 L40.26 291.28 L40.32 292.00 L40.39 292.25 L40.45 292.03 L40.51 291.35 L40.58 290.21 L40.64 288.64 L40.71 286.65 L40.77 284.29 L40.83 281.60 L40.90 278.61 L40.96 275.38 L41.02 271.95 L41.09 268.39 L41.15 264.76 L41.22 261.12 L41.28 257.51 L41.34 254.02 L41.41 250.68 L41.47 247.56 L41.53 244.71 L41.60 242.18 L41.66 240.01 L41.72 238.22 L41.79 236.87 L41.85 235.95 L41.92 235.50 L41.98 235.52 L42.04 236.00 L42.11 236.94 L42.17 238.33 L42.23 240.14 L42.30 242.34 L42.36 244.89 L42.42 247.76 L42.49 250.90 L42.55 254.24 L42.62 257.75 L42.68 261.36 L42.74 265.01 L42.81 268.64 L42.87 272.19 L42.93 275.60 L43.00 278.82 L43.06 281.79 L43.13 284.46 L43.19 286.80 L43.25 288.75 L43.32 290.30 L43.38 291.41 L43.44 292.06 L43.51 292.25 L43.57 291.97 L43.63 291.22 L43.70 290.02 L43.76 288.39 L43.83 286.36 L43.89 283.95 L43.95 281.22 L44.02 278.19 L44.08 274.93 L44.14 271.48 L44.21 267.91 L44.27 264.28 L44.34 260.63 L44.40 257.04 L44.46 253.56 L44.53 250.25 L44.59 247.17 L44.65 244.36 L44.72 241.87 L44.78 239.75 L44.84 238.02 L44.91 236.72 L44.97 235.87 L45.04 235.48 L45.10 235.55 L45.16 236.10 L45.23 237.10 L45.29 238.55 L45.35 240.41 L45.42 242.66 L45.48 245.26 L45.54 248.17 L45.61 251.33 L45.67 254.70 L45.74 258.23 L45.80 261.84 L45.86 265.49 L45.93 269.11 L45.99 272.65 L46.05 276.04 L46.12 279.23 L46.18 282.16 L46.25 284.79 L46.31 287.08 L46.37 288.98 L46.44 290.47 L46.50 291.52 L46.56 292.11 L46.63 292.24 L46.69 291.89 L46.75 291.09 L46.82 289.83 L46.88 288.15 L46.95 286.06 L47.01 283.61 L47.07 280.83 L47.14 277.77 L47.20 274.48 L47.26 271.01 L47.33 267.43 L47.39 263.79 L47.45 260.15 L47.52 256.57 L47.58 253.11 L47.65 249.83 L47.71 246.78 L47.77 244.01 L47.84 241.56 L47.90 239.49 L47.96 237.82 L48.03 236.58 L48.09 235.79 L48.16 235.46 L48.22 235.60 L48.28 236.21 L48.35 237.27 L48.41 238.77 L48.47 240.69 L48.54 242.99 L48.60 245.63 L48.66 248.58 L48.73 251.77 L48.79 255.17 L48.86 258.71 L48.92 262.33 L48.98 265.98 L49.05 269.59 L49.11 273.11 L49.17 276.48 L49.24 279.63 L49.30 282.53 L49.36 285.12 L49.43 287.36 L49.49 289.21 L49.56 290.64 L49.62 291.63 L49.68 292.16 L49.75 292.22 L49.81 291.81 L49.87 290.95 L49.94 289.63 L50.00 287.89 L50.07 285.75 L50.13 283.25 L50.19 280.43 L50.26 277.34 L50.32 274.03 L50.38 270.54 L50.45 266.95 L50.51 263.30 L50.57 259.67 L50.64 256.10 L50.70 252.66 L50.77 249.40 L50.83 246.39 L50.89 243.66 L50.96 241.27 L51.02 239.24 L51.08 237.63 L51.15 236.45 L51.21 235.72 L51.28 235.45 L51.34 235.65 L51.40 236.32 L51.47 237.45 L51.53 239.01 L51.59 240.97 L51.66 243.32 L51.72 246.01 L51.78 248.99 L51.85 252.21 L51.91 255.63 L51.98 259.18 L52.04 262.82 L52.10 266.46 L52.17 270.07 L52.23 273.57 L52.29 276.91 L52.36 280.04 L52.42 282.90 L52.48 285.44 L52.55 287.63 L52.61 289.42 L52.68 290.80 L52.74 291.72 L52.80 292.19 L52.87 292.19 L52.93 291.72 L52.99 290.80 L53.06 289.42 L53.12 287.63 L53.19 285.44 L53.25 282.90 L53.31 280.04 L53.38 276.91 L53.44 273.57 L53.50 270.07 L53.57 266.46 L53.63 262.82 L53.69 259.18 L53.76 255.63 L53.82 252.21 L53.89 248.99 L53.95 246.01 L54.01 243.32 L54.08 240.97 L54.14 239.01 L54.20 237.45 L54.27 236.32 L54.33 235.65 L54.39 235.45 L54.46 235.72 L54.52 236.45 L54.59 237.63 L54.65 239.24 L54.71 241.27 L54.78 243.66 L54.84 246.39 L54.90 249.40 L54.97 252.66 L55.03 256.10 L55.10 259.67 L55.16 263.30 L55.22 266.95 L55.29 270.54 L55.35 274.03 L55.41 277.34 L55.48 280.43 L55.54 283.25 L55.60 285.75 L55.67 287.89 L55.73 289.63 L55.80 290.95 L55.86 291.81 L55.92 292.22 L55.99 292.16 L56.05 291.63 L56.11 290.64 L56.18 289.21 L56.24 287.36 L56.31 285.12 L56.37 282.53 L56.43 279.63 L56.50 276.48 L56.56 273.11 L56.62 269.59 L56.69 265.98 L56.75 262.33 L56.81 258.71 L56.88 255.17 L56.94 251.77 L57.01 248.58 L57.07 245.63 L57.13 242.99 L57.20 240.69 L57.26 238.77 L57.32 237.27 L57.39 236.21 L57.45 235.60 L57.51 235.46 L57.58 235.79 L57.64 236.58 L57.71 237.82 L57.77 239.49 L57.83 241.56 L57.90 244.01 L57.96 246.78 L58.02 249.83 L58.09 253.11 L58.15 256.57 L58.22 260.15 L58.28 263.79 L58.34 267.43 L58.41 271.01 L58.47 274.48 L58.53 277.77 L58.60 280.83 L58.66 283.61 L58.72 286.06 L58.79 288.15 L58.85 289.83 L58.92 291.09 L58.98 291.89 L59.04 292.24 L59.11 292.11 L59.17 291.52 L59.23 290.47 L59.30 288.98 L59.36 287.08 L59.42 284.79 L59.49 282.16 L59.55 279.23 L59.62 276.04 L59.68 272.65 L59.74 269.11 L59.81 265.49 L59.87 261.84 L59.93 258.23 L60.00 254.70 L60.06 251.33 L60.13 248.17 L60.19 245.26 L60.25 242.66 L60.32 240.41 L60.38 238.55 L60.44 237.10 L60.51 236.10 L60.57 235.55 L60.63 235.48 L60.70 235.87 L60.76 236.72 L60.83 238.02 L60.89 239.75 L60.95 241.87 L61.02 244.36 L61.08 247.17 L61.14 250.25 L61.21 253.56 L61.27 257.04 L61.33 260.63 L61.40 264.28 L61.46 267.91 L61.53 271.48 L61.59 274.93 L61.65 278.19 L61.72 281.22 L61.78 283.95 L61.84 286.36 L61.91 288.39 L61.97 290.02 L62.04 291.22 L62.10 291.97 L62.16 292.25 L62.23 292.06 L62.29 291.41 L62.35 290.30 L62.42 288.75 L62.48 286.80 L62.54 284.46 L62.61 281.79 L62.67 278.82 L62.74 275.60 L62.80 272.19 L62.86 268.64 L62.93 265.01 L62.99 261.36 L63.05 257.75 L63.12 254.24 L63.18 250.90 L63.25 247.76 L63.31 244.89 L63.37 242.34 L63.44 240.14 L63.50 238.33 L63.56 236.94 L63.63 236.00 L63.69 235.52 L63.75 235.50 L63.82 235.95 L63.88 236.87 L63.95 238.22 L64.01 240.01 L64.07 242.18 L64.14 244.71 L64.20 247.56 L64.26 250.68 L64.33 254.02 L64.39 257.51 L64.45 261.12 L64.52 264.76 L64.58 268.39 L64.65 271.95 L64.71 275.38 L64.77 278.61 L64.84 281.60 L64.90 284.29 L64.96 286.65 L65.03 288.64 L65.09 290.21 L65.16 291.35 L65.22 292.03 L65.28 292.25 L65.35 292.00 L65.41 291.28 L65.47 290.12 L65.54 288.52 L65.60 286.51 L65.66 284.12 L65.73 281.41 L65.79 278.40 L65.86 275.15 L65.92 271.72 L65.98 268.15 L66.05 264.52 L66.11 260.87 L66.17 257.28 L66.24 253.79 L66.30 250.47 L66.36 247.36 L66.43 244.54 L66.49 242.02 L66.56 239.88 L66.62 238.12 L66.68 236.79 L66.75 235.91 L66.81 235.49 L66.87 235.53 L66.94 236.05 L67.00 237.02 L67.07 238.44 L67.13 240.27 L67.19 242.50 L67.26 245.08 L67.32 247.96 L67.38 251.11 L67.45 254.47 L67.51 257.99 L67.57 261.60 L67.64 265.25 L67.70 268.87 L67.77 272.42 L67.83 275.82 L67.89 279.02 L67.96 281.98 L68.02 284.63 L68.08 286.94 L68.15 288.87 L68.21 290.39 L68.27 291.46 L68.34 292.09 L68.40 292.24 L68.47 291.93 L68.53 291.16 L68.59 289.93 L68.66 288.27 L68.72 286.21 L68.78 283.78 L68.85 281.02 L68.91 277.98 L68.98 274.70 L69.04 271.25 L69.10 267.67 L69.17 264.03 L69.23 260.39 L69.29 256.80 L69.36 253.33 L69.42 250.04 L69.48 246.97 L69.55 244.18 L69.61 241.72 L69.68 239.62 L69.74 237.92 L69.80 236.65 L69.87 235.83 L69.93 235.47 L69.99 235.58 L70.06 236.15 L70.12 237.19 L70.19 238.66 L70.25 240.55 L70.31 242.82 L70.38 245.45 L70.44 248.37 L70.50 251.55 L70.57 254.94 L70.63 258.47 L70.69 262.09 L70.76 265.74 L70.82 269.35 L70.89 272.88 L70.95 276.26 L71.01 279.43 L71.08 282.35 L71.14 284.96 L71.20 287.22 L71.27 289.10 L71.33 290.56 L71.39 291.57 L71.46 292.14 L71.52 292.23 L71.59 291.85 L71.65 291.02 L71.71 289.73 L71.78 288.02 L71.84 285.91 L71.90 283.43 L71.97 280.63 L72.03 277.56 L72.10 274.25 L72.16 270.78 L72.22 267.19 L72.29 263.55 L72.35 259.91 L72.41 256.33 L72.48 252.88 L72.54 249.61 L72.60 246.58 L72.67 243.83 L72.73 241.41 L72.80 239.37 L72.86 237.72 L72.92 236.51 L72.99 235.75 L73.05 235.45 L73.11 235.63 L73.18 236.26 L73.24 237.36 L73.30 238.89 L73.37 240.83 L73.43 243.15 L73.50 245.82 L73.56 248.78 L73.62 251.99 L73.69 255.40 L73.75 258.95 L73.81 262.57 L73.88 266.22 L73.94 269.83 L74.01 273.34 L74.07 276.69 L74.13 279.84 L74.20 282.71 L74.26 285.28 L74.32 287.49 L74.39 289.32 L74.45 290.72 L74.51 291.68 L74.58 292.17 L74.64 292.21 L74.71 291.77 L74.77 290.87 L74.83 289.53 L74.90 287.76 L74.96 285.60 L75.02 283.08 L75.09 280.24 L75.15 277.13 L75.21 273.80 L75.28 270.31 L75.34 266.71 L75.41 263.06 L75.47 259.43 L75.53 255.86 L75.60 252.44 L75.66 249.20 L75.72 246.20 L75.79 243.49 L75.85 241.12 L75.92 239.12 L75.98 237.54 L76.04 236.38 L76.11 235.68 L76.17 235.45 L76.23 235.68 L76.30 236.38 L76.36 237.54 L76.42 239.12 L76.49 241.12 L76.55 243.49 L76.62 246.20 L76.68 249.20 L76.74 252.44 L76.81 255.86 L76.87 259.43 L76.93 263.06 L77.00 266.71 L77.06 270.31 L77.13 273.80 L77.19 277.13 L77.25 280.24 L77.32 283.08 L77.38 285.60 L77.44 287.76 L77.51 289.53 L77.57 290.87 L77.63 291.77 L77.70 292.21 L77.76 292.17 L77.83 291.68 L77.89 290.72 L77.95 289.32 L78.02 287.49 L78.08 285.28 L78.14 282.71 L78.21 279.84 L78.27 276.69 L78.33 273.34 L78.40 269.83 L78.46 266.22 L78.53 262.57 L78.59 258.95 L78.65 255.40 L78.72 251.99 L78.78 248.78 L78.84 245.82 L78.91 243.15 L78.97 240.83 L79.04 238.89 L79.10 237.36 L79.16 236.26 L79.23 235.63 L79.29 235.45 L79.35 235.75 L79.42 236.51 L79.48 237.72 L79.54 239.37 L79.61 241.41 L79.67 243.83 L79.74 246.58 L79.80 249.61 L79.86 252.88 L79.93 256.33 L79.99 259.91 L80.05 263.55 L80.12 267.19 L80.18 270.78 L80.24 274.25 L80.31 277.56 L80.37 280.63 L80.44 283.43 L80.50 285.91 L80.56 288.02 L80.63 289.73 L80.69 291.02 L80.75 291.85 L80.82 292.23 L80.88 292.14 L80.95 291.57 L81.01 290.56 L81.07 289.10 L81.14 287.22 L81.20 284.96 L81.26 282.35 L81.33 279.43 L81.39 276.26 L81.45 272.88 L81.52 269.35 L81.58 265.74 L81.65 262.09 L81.71 258.47 L81.77 254.94 L81.84 251.55 L81.90 248.37 L81.96 245.45 L82.03 242.82 L82.09 240.55 L82.15 238.66 L82.22 237.19 L82.28 236.15 L82.35 235.58 L82.41 235.47 L82.47 235.83 L82.54 236.65 L82.60 237.92 L82.66 239.62 L82.73 241.72 L82.79 244.18 L82.86 246.97 L82.92 250.04 L82.98 253.33 L83.05 256.80 L83.11 260.39 L83.17 264.03 L83.24 267.67 L83.30 271.25 L83.36 274.70 L83.43 277.98 L83.49 281.02 L83.56 283.78 L83.62 286.21 L83.68 288.27 L83.75 289.93 L83.81 291.16 L83.87 291.93 L83.94 292.24 L84.00 292.09 L84.07 291.46 L84.13 290.39 L84.19 288.87 L84.26 286.94 L84.32 284.63 L84.38 281.98 L84.45 279.02 L84.51 275.82 L84.57 272.42 L84.64 268.87 L84.70 265.25 L84.77 261.60 L84.83 257.99 L84.89 254.47 L84.96 251.11 L85.02 247.96 L85.08 245.08 L85.15 242.50 L85.21 240.27 L85.27 238.44 L85.34 237.02 L85.40 236.05 L85.47 235.53 L85.53 235.49 L85.59 235.91 L85.66 236.79 L85.72 238.12 L85.78 239.88 L85.85 242.02 L85.91 244.54 L85.98 247.36 L86.04 250.47 L86.10 253.79 L86.17 257.28 L86.23 260.87 L86.29 264.52 L86.36 268.15 L86.42 271.72 L86.48 275.15 L86.55 278.40 L86.61 281.41 L86.68 284.12 L86.74 286.51 L86.80 288.52 L86.87 290.12 L86.93 291.28 L86.99 292.00 L87.06 292.25 L87.12 292.03 L87.18 291.35 L87.25 290.21 L87.31 288.64 L87.38 286.65 L87.44 284.29 L87.50 281.60 L87.57 278.61 L87.63 275.38 L87.69 271.95 L87.76 268.39 L87.82 264.76 L87.89 261.12 L87.95 257.51 L88.01 254.02 L88.08 250.68 L88.14 247.56 L88.20 244.71 L88.27 242.18 L88.33 240.01 L88.39 238.22 L88.46 236.87 L88.52 235.95 L88.59 235.50 L88.65 235.52 L88.71 236.00 L88.78 236.94 L88.84 238.33 L88.90 240.14 L88.97 242.34 L89.03 244.89 L89.09 247.76 L89.16 250.90 L89.22 254.24 L89.29 257.75 L89.35 261.36 L89.41 265.01 L89.48 268.64 L89.54 272.19 L89.60 275.60 L89.67 278.82 L89.73 281.79 L89.80 284.46 L89.86 286.80 L89.92 288.75 L89.99 290.30 L90.05 291.41 L90.11 292.06 L90.18 292.25 L90.24 291.97 L90.30 291.22 L90.37 290.02 L90.43 288.39 L90.50 286.36 L90.56 283.95 L90.62 281.22 L90.69 278.19 L90.75 274.93 L90.81 271.48 L90.88 267.91 L90.94 264.28 L91.01 260.63 L91.07 257.04 L91.13 253.56 L91.20 250.25 L91.26 247.17 L91.32 244.36 L91.39 241.87 L91.45 239.75 L91.51 238.02 L91.58 236.72 L91.64 235.87 L91.71 235.48 L91.77 235.55 L91.83 236.10 L91.90 237.10 L91.96 238.55 L92.02 240.41 L92.09 242.66 L92.15 245.26 L92.21 248.17 L92.28 251.33 L92.34 254.70 L92.41 258.23 L92.47 261.84 L92.53 265.49 L92.60 269.11 L92.66 272.65 L92.72 276.04 L92.79 279.23 L92.85 282.16 L92.92 284.79 L92.98 287.08 L93.04 288.98 L93.11 290.47 L93.17 291.52 L93.23 292.11 L93.30 292.24 L93.36 291.89 L93.42 291.09 L93.49 289.83 L93.55 288.15 L93.62 286.06 L93.68 283.61 L93.74 280.83 L93.81 277.77 L93.87 274.48 L93.93 271.01 L94.00 267.43 L94.06 263.79 L94.12 260.15 L94.19 256.57 L94.25 253.11 L94.32 249.83 L94.38 246.78 L94.44 244.01 L94.51 241.56 L94.57 239.49 L94.63 237.82 L94.70 236.58 L94.76 235.79 L94.83 235.46 L94.89 235.60 L94.95 236.21 L95.02 237.27 L95.08 238.77 L95.14 240.69 L95.21 242.99 L95.27 245.63 L95.33 248.58 L95.40 251.77 L95.46 255.17 L95.53 258.71 L95.59 262.33 L95.65 265.98 L95.72 269.59 L95.78 273.11 L95.84 276.48 L95.91 279.63 L95.97 282.53 L96.03 285.12 L96.10 287.36 L96.16 289.21 L96.23 290.64 L96.29 291.63 L96.35 292.16 L96.42 292.22 L96.48 291.81 L96.54 290.95 L96.61 289.63 L96.67 287.89 L96.74 285.75 L96.80 283.25 L96.86 280.43 L96.93 277.34 L96.99 274.03 L97.05 270.54 L97.12 266.95 L97.18 263.30 L97.24 259.67 L97.31 256.10 L97.37 252.66 L97.44 249.40 L97.50 246.39 L97.56 243.66 L97.63 241.27 L97.69 239.24 L97.75 237.63 L97.82 236.45 L97.88 235.72 L97.95 235.45 L98.01 235.65 L98.07 236.32 L98.14 237.45 L98.20 239.01 L98.26 240.97 L98.33 243.32 L98.39 246.01 L98.45 248.99 L98.52 252.21 L98.58 255.63 L98.65 259.18 L98.71 262.82 L98.77 266.46 L98.84 270.07 L98.90 273.57 L98.96 276.91 L99.03 280.04 L99.09 282.90 L99.15 285.44 L99.22 287.63 L99.28 289.42 L99.35 290.80 L99.41 291.72 L99.47 292.19 L99.54 292.19 L99.60 291.72 L99.66 290.80 L99.73 289.42 L99.79 287.63 L99.86 285.44 L99.92 282.90 L99.98 280.04 L100.05 276.91 L100.11 273.57 L100.17 270.07 L100.24 266.46 L100.30 262.82 L100.36 259.18 L100.43 255.63 L100.49 252.21 L100.56 248.99 L100.62 246.01 L100.68 243.32 L100.75 240.97 L100.81 239.01 L100.87 237.45 L100.94 236.32 L101.00 235.65 L101.06 235.45 L101.13 235.72 L101.19 236.45 L101.26 237.63 L101.32 239.24 L101.38 241.27 L101.45 243.66 L101.51 246.39 L101.57 249.40 L101.64 252.66 L101.70 256.10 L101.77 259.67 L101.83 263.30 L101.89 266.95 L101.96 270.54 L102.02 274.03 L102.08 277.34 L102.15 280.43 L102.21 283.25 L102.27 285.75 L102.34 287.89 L102.40 289.63 L102.47 290.95 L102.53 291.81 L102.59 292.22 L102.66 292.16 L102.72 291.63 L102.78 290.64 L102.85 289.21 L102.91 287.36 L102.98 285.12 L103.04 282.53 L103.10 279.63 L103.17 276.48 L103.23 273.11 L103.29 269.59 L103.36 265.98 L103.42 262.33 L103.48 258.71 L103.55 255.17 L103.61 251.77 L103.68 248.58 L103.74 245.63 L103.80 242.99 L103.87 240.69 L103.93 238.77 L103.99 237.27 L104.06 236.21 L104.12 235.60 L104.18 235.46 L104.25 235.79 L104.31 236.58 L104.38 237.82 L104.44 239.49 L104.50 241.56 L104.57 244.01 L104.63 246.78 L104.69 249.83 L104.76 253.11 L104.82 256.57 L104.89 260.15 L104.95 263.79 L105.01 267.43 L105.08 271.01 L105.14 274.48 L105.20 277.77 L105.27 280.83 L105.33 283.61 L105.39 286.06 L105.46 288.15 L105.52 289.83 L105.59 291.09 L105.65 291.89 L105.71 292.24 L105.78 292.11 L105.84 291.52 L105.90 290.47 L105.97 288.98 L106.03 287.08 L106.09 284.79 L106.16 282.16 L106.22 279.23 L106.29 276.04 L106.35 272.65 L106.41 269.11 L106.48 265.49 L106.54 261.84 L106.60 258.23 L106.67 254.70 L106.73 251.33 L106.80 248.17 L106.86 245.26 L106.92 242.66 L106.99 240.41 L107.05 238.55 L107.11 237.10 L107.18 236.10 L107.24 235.55 L107.30 235.48 L107.37 235.87 L107.43 236.72 L107.50 238.02 L107.56 239.75 L107.62 241.87 L107.69 244.36 L107.75 247.17 L107.81 250.25 L107.88 253.56 L107.94 257.04 L108.00 260.63 L108.07 264.28 L108.13 267.91 L108.20 271.48 L108.26 274.93 L108.32 278.19 L108.39 281.22 L108.45 283.95 L108.51 286.36 L108.58 288.39 L108.64 290.02 L108.71 291.22 L108.77 291.97 L108.83 292.25 L108.90 292.06 L108.96 291.41 L109.02 290.30 L109.09 288.75 L109.15 286.80 L109.21 284.46 L109.28 281.79 L109.34 278.82 L109.41 275.60 L109.47 272.19 L109.53 268.64 L109.60 265.01 L109.66 261.36 L109.72 257.75 L109.79 254.24 L109.85 250.90 L109.92 247.76 L109.98 244.89 L110.04 242.34 L110.11 240.14 L110.17 238.33 L110.23 236.94 L110.30 236.00 L110.36 235.52 L110.42 235.50 L110.49 235.95 L110.55 236.87 L110.62 238.22 L110.68 240.01 L110.74 242.18 L110.81 244.71 L110.87 247.56 L110.93 250.68 L111.00 254.02 L111.06 257.51 L111.12 261.12 L111.19 264.76 L111.25 268.39 L111.32 271.95 L111.38 275.38 L111.44 278.61 L111.51 281.60 L111.57 284.29 L111.63 286.65 L111.70 288.64 L111.76 290.21 L111.83 291.35 L111.89 292.03 L111.95 292.25 L112.02 292.00 L112.08 291.28 L112.14 290.12 L112.21 288.52 L112.27 286.51 L112.33 284.12 L112.40 281.41 L112.46 278.40 L112.53 275.15 L112.59 271.72 L112.65 268.15 L112.72 264.52 L112.78 260.87 L112.84 257.28 L112.91 253.79 L112.97 250.47 L113.03 247.36 L113.10 244.54 L113.16 242.02 L113.23 239.88 L113.29 238.12 L113.35 236.79 L113.42 235.91 L113.48 235.49 L113.54 235.53 L113.61 236.05 L113.67 237.02 L113.74 238.44 L113.80 240.27 L113.86 242.50 L113.93 245.08 L113.99 247.96 L114.05 251.11 L114.12 254.47 L114.18 257.99 L114.24 261.60 L114.31 265.25 L114.37 268.87 L114.44 272.42 L114.50 275.82 L114.56 279.02 L114.63 281.98 L114.69 284.63 L114.75 286.94 L114.82 288.87 L114.88 290.39 L114.94 291.46 L115.01 292.09 L115.07 292.24 L115.14 291.93 L115.20 291.16 L115.26 289.93 L115.33 288.27 L115.39 286.21 L115.45 283.78 L115.52 281.02 L115.58 277.98 L115.65 274.70 L115.71 271.25 L115.77 267.67 L115.84 264.03 L115.90 260.39 L115.96 256.80 L116.03 253.33 L116.09 250.04 L116.15 246.97 L116.22 244.18 L116.28 241.72 L116.35 239.62 L116.41 237.92 L116.47 236.65 L116.54 235.83 L116.60 235.47 L116.66 235.58 L116.73 236.15 L116.79 237.19 L116.86 238.66 L116.92 240.55 L116.98 242.82 L117.05 245.45 L117.11 248.37 L117.17 251.55 L117.24 254.94 L117.30 258.47 L117.36 262.09 L117.43 265.74 L117.49 269.35 L117.56 272.88 L117.62 276.26 L117.68 279.43 L117.75 282.35 L117.81 284.96 L117.87 287.22 L117.94 289.10 L118.00 290.56 L118.06 291.57 L118.13 292.14 L118.19 292.23 L118.26 291.85 L118.32 291.02 L118.38 289.73 L118.45 288.02 L118.51 285.91 L118.57 283.43 L118.64 280.63 L118.70 277.56 L118.77 274.25 L118.83 270.78 L118.89 267.19 L118.96 263.55 L119.02 259.91 L119.08 256.33 L119.15 252.88 L119.21 249.61 L119.27 246.58 L119.34 243.83 L119.40 241.41 L119.47 239.37 L119.53 237.72 L119.59 236.51 L119.66 235.75 L119.72 235.45 L119.78 235.63 L119.85 236.26 L119.91 237.36 L119.97 238.89 L120.04 240.83 L120.10 243.15 L120.17 245.82 L120.23 248.78 L120.29 251.99 L120.36 255.40 L120.42 258.95 L120.48 262.57 L120.55 266.22 L120.61 269.83 L120.68 273.34 L120.74 276.69 L120.80 279.84 L120.87 282.71 L120.93 285.28 L120.99 287.49 L121.06 289.32 L121.12 290.72 L121.18 291.68 L121.25 292.17 L121.31 292.21 L121.38 291.77 L121.44 290.87 L121.50 289.53 L121.57 287.76 L121.63 285.60 L121.69 283.08 L121.76 280.24 L121.82 277.13 L121.88 273.80 L121.95 270.31 L122.01 266.71 L122.08 263.06 L122.14 259.43 L122.20 255.86 L122.27 252.44 L122.33 249.20 L122.39 246.20 L122.46 243.49 L122.52 241.12 L122.59 239.12 L122.65 237.54 L122.71 236.38 L122.78 235.68 L122.84 235.45 L122.90 235.68 L122.97 236.38 L123.03 237.54 L123.09 239.12 L123.16 241.12 L123.22 243.49 L123.29 246.20 L123.35 249.20 L123.41 252.44 L123.48 255.86 L123.54 259.43 L123.60 263.06 L123.67 266.71 L123.73 270.31 L123.80 273.80 L123.86 277.13 L123.92 280.24 L123.99 283.08 L124.05 285.60 L124.11 287.76 L124.18 289.53 L124.24 290.87 L124.30 291.77 L124.37 292.21 L124.43 292.17 L124.50 291.68 L124.56 290.72 L124.62 289.32 L124.69 287.49 L124.75 285.28 L124.81 282.71 L124.88 279.84 L124.94 276.69 L125.00 273.34 L125.07 269.83 L125.13 266.22 L125.20 262.57 L125.26 258.95 L125.32 255.40 L125.39 251.99 L125.45 248.78 L125.51 245.82 L125.58 243.15 L125.64 240.83 L125.71 238.89 L125.77 237.36 L125.83 236.26 L125.90 235.63 L125.96 235.45 L126.02 235.75 L126.09 236.51 L126.15 237.72 L126.21 239.37 L126.28 241.41 L126.34 243.83 L126.41 246.58 L126.47 249.61 L126.53 252.88 L126.60 256.33 L126.66 259.91 L126.72 263.55 L126.79 267.19 L126.85 270.78 L126.91 274.25 L126.98 277.56 L127.04 280.63 L127.11 283.43 L127.17 285.91 L127.23 288.02 L127.30 289.73 L127.36 291.02 L127.42 291.85 L127.49 292.23 L127.55 292.14 L127.62 291.57 L127.68 290.56 L127.74 289.10 L127.81 287.22 L127.87 284.96 L127.93 282.35 L128.00 279.43 L128.06 276.26 L128.12 272.88 L128.19 269.35 L128.25 265.74 L128.32 262.09 L128.38 258.47 L128.44 254.94 L128.51 251.55 L128.57 248.37 L128.63 245.45 L128.70 242.82 L128.76 240.55 L128.82 238.66 L128.89 237.19 L128.95 236.15 L129.02 235.58 L129.08 235.47 L129.14 235.83 L129.21 236.65 L129.27 237.92 L129.33 239.62 L129.40 241.72 L129.46 244.18 L129.53 246.97 L129.59 250.04 L129.65 253.33 L129.72 256.80 L129.78 260.39 L129.84 264.03 L129.91 267.67 L129.97 271.25 L130.03 274.70 L130.10 277.98 L130.16 281.02 L130.23 283.78 L130.29 286.21 L130.35 288.27 L130.42 289.93 L130.48 291.16 L130.54 291.93 L130.61 292.24 L130.67 292.09 L130.74 291.46 L130.80 290.39 L130.86 288.87 L130.93 286.94 L130.99 284.63 L131.05 281.98 L131.12 279.02 L131.18 275.82 L131.24 272.42 L131.31 268.87 L131.37 265.25 L131.44 261.60 L131.50 257.99 L131.56 254.47 L131.63 251.11 L131.69 247.96 L131.75 245.08 L131.82 242.50 L131.88 240.27 L131.94 238.44 L132.01 237.02 L132.07 236.05 L132.14 235.53 L132.20 235.49 L132.26 235.91 L132.33 236.79 L132.39 238.12 L132.45 239.88 L132.52 242.02 L132.58 244.54 L132.65 247.36 L132.71 250.47 L132.77 253.79 L132.84 257.28 L132.90 260.87 L132.96 264.52 L133.03 268.15 L133.09 271.72 L133.15 275.15 L133.22 278.40 L133.28 281.41 L133.35 284.12 L133.41 286.51 L133.47 288.52 L133.54 290.12 L133.60 291.28 L133.66 292.00 L133.73 292.25 L133.79 292.03 L133.85 291.35 L133.92 290.21 L133.98 288.64 L134.05 286.65 L134.11 284.29 L134.17 281.60 L134.24 278.61 L134.30 275.38 L134.36 271.95 L134.43 268.39 L134.49 264.76 L134.56 261.12 L134.62 257.51 L134.68 254.02 L134.75 250.68 L134.81 247.56 L134.87 244.71 L134.94 242.18 L135.00 240.01 L135.06 238.22 L135.13 236.87 L135.19 235.95 L135.26 235.50 L135.32 235.52 L135.38 236.00 L135.45 236.94 L135.51 238.33 L135.57 240.14 L135.64 242.34 L135.70 244.89 L135.76 247.76 L135.83 250.90 L135.89 254.24 L135.96 257.75 L136.02 261.36 L136.08 265.01 L136.15 268.64 L136.21 272.19 L136.27 275.60 L136.34 278.82 L136.40 281.79 L136.47 284.46 L136.53 286.80 L136.59 288.75 L136.66 290.30 L136.72 291.41 L136.78 292.06 L136.85 292.25 L136.91 291.97 L136.97 291.22 L137.04 290.02 L137.10 288.39 L137.17 286.36 L137.23 283.95 L137.29 281.22 L137.36 278.19 L137.42 274.93 L137.48 271.48 L137.55 267.91 L137.61 264.28 L137.68 260.63 L137.74 257.04 L137.80 253.56 L137.87 250.25 L137.93 247.17 L137.99 244.36 L138.06 241.87 L138.12 239.75 L138.18 238.02 L138.25 236.72 L138.31 235.87 L138.38 235.48 L138.44 235.55 L138.50 236.10 L138.57 237.10 L138.63 238.55 L138.69 240.41 L138.76 242.66 L138.82 245.26 L138.88 248.17 L138.95 251.33 L139.01 254.70 L139.08 258.23 L139.14 261.84 L139.20 265.49 L139.27 269.11 L139.33 272.65 L139.39 276.04 L139.46 279.23 L139.52 282.16 L139.59 284.79 L139.65 287.08 L139.71 288.98 L139.78 290.47 L139.84 291.52 L139.90 292.11 L139.97 292.24 L140.03 291.89 L140.09 291.09 L140.16 289.83 L140.22 288.15 L140.29 286.06 L140.35 283.61 L140.41 280.83 L140.48 277.77 L140.54 274.48 L140.60 271.01 L140.67 267.43 L140.73 263.79 L140.79 260.15 L140.86 256.57 L140.92 253.11 L140.99 249.83 L141.05 246.78 L141.11 244.01 L141.18 241.56 L141.24 239.49 L141.30 237.82 L141.37 236.58 L141.43 235.79 L141.50 235.46 L141.56 235.60 L141.62 236.21 L141.69 237.27 L141.75 238.77 L141.81 240.69 L141.88 242.99 L141.94 245.63 L142.00 248.58 L142.07 251.77 L142.13 255.17 L142.20 258.71 L142.26 262.33 L142.32 265.98 L142.39 269.59 L142.45 273.11 L142.51 276.48 L142.58 279.63 L142.64 282.53 L142.70 285.12 L142.77 287.36 L142.83 289.21 L142.90 290.64 L142.96 291.63 L143.02 292.16 L143.09 292.22 L143.15 291.81 L143.21 290.95 L143.28 289.63 L143.34 287.89 L143.41 285.75 L143.47 283.25 L143.53 280.43 L143.60 277.34 L143.66 274.03 L143.72 270.54 L143.79 266.95 L143.85 263.30 L143.91 259.67 L143.98 256.10 L144.04 252.66 L144.11 249.40 L144.17 246.39 L144.23 243.66 L144.30 241.27 L144.36 239.24 L144.42 237.63 L144.49 236.45 L144.55 235.72 L144.62 235.45 L144.68 235.65 L144.74 236.32 L144.81 237.45 L144.87 239.01 L144.93 240.97 L145.00 243.32 L145.06 246.01 L145.12 248.99 L145.19 252.21 L145.25 255.63 L145.32 259.18 L145.38 262.82 L145.44 266.46 L145.51 270.07 L145.57 273.57 L145.63 276.91 L145.70 280.04 L145.76 282.90 L145.82 285.44 L145.89 287.63 L145.95 289.42 L146.02 290.80 L146.08 291.72 L146.14 292.19 L146.21 292.19 L146.27 291.72 L146.33 290.80 L146.40 289.42 L146.46 287.63 L146.53 285.44 L146.59 282.90 L146.65 280.04 L146.72 276.91 L146.78 273.57 L146.84 270.07 L146.91 266.46 L146.97 262.82 L147.03 259.18 L147.10 255.63 L147.16 252.21 L147.23 248.99 L147.29 246.01 L147.35 243.32 L147.42 240.97 L147.48 239.01 L147.54 237.45 L147.61 236.32 L147.67 235.65 L147.73 235.45 L147.80 235.72 L147.86 236.45 L147.93 237.63 L147.99 239.24 L148.05 241.27 L148.12 243.66 L148.18 246.39 L148.24 249.40 L148.31 252.66 L148.37 256.10 L148.44 259.67 L148.50 263.30 L148.56 266.95 L148.63 270.54 L148.69 274.03 L148.75 277.34 L148.82 280.43 L148.88 283.25 L148.94 285.75 L149.01 287.89 L149.07 289.63 L149.14 290.95 L149.20 291.81 L149.26 292.22 L149.33 292.16 L149.39 291.63 L149.45 290.64 L149.52 289.21 L149.58 287.36 L149.65 285.12 L149.71 282.53 L149.77 279.63 L149.84 276.48 L149.90 273.11 L149.96 269.59 L150.03 265.98 L150.09 262.33 L150.15 258.71 L150.22 255.17 L150.28 251.77 L150.35 248.58 L150.41 245.63 L150.47 242.99 L150.54 240.69 L150.60 238.77 L150.66 237.27 L150.73 236.21 L150.79 235.60 L150.85 235.46 L150.92 235.79 L150.98 236.58 L151.05 237.82 L151.11 239.49 L151.17 241.56 L151.24 244.01 L151.30 246.78 L151.36 249.83 L151.43 253.11 L151.49 256.57 L151.56 260.15 L151.62 263.79 L151.68 267.43 L151.75 271.01 L151.81 274.48 L151.87 277.77 L151.94 280.83 L152.00 283.61 L152.06 286.06 L152.13 288.15 L152.19 289.83 L152.26 291.09 L152.32 291.89 L152.38 292.24 L152.45 292.11 L152.51 291.52 L152.57 290.47 L152.64 288.98 L152.70 287.08 L152.76 284.79 L152.83 282.16 L152.89 279.23 L152.96 276.04 L153.02 272.65 L153.08 269.11 L153.15 265.49 L153.21 261.84 L153.27 258.23 L153.34 254.70 L153.40 251.33 L153.47 248.17 L153.53 245.26 L153.59 242.66 L153.66 240.41 L153.72 238.55 L153.78 237.10 L153.85 236.10 L153.91 235.55 L153.97 235.48 L154.04 235.87 L154.10 236.72 L154.17 238.02 L154.23 239.75 L154.29 241.87 L154.36 244.36 L154.42 247.17 L154.48 250.25 L154.55 253.56 L154.61 257.04 L154.67 260.63 L154.74 264.28 L154.80 267.91 L154.87 271.48 L154.93 274.93 L154.99 278.19 L155.06 281.22 L155.12 283.95 L155.18 286.36 L155.25 288.39 L155.31 290.02 L155.38 291.22 L155.44 291.97 L155.50 292.25 L155.57 292.06 L155.63 291.41 L155.69 290.30 L155.76 288.75 L155.82 286.80 L155.88 284.46 L155.95 281.79 L156.01 278.82 L156.08 275.60 L156.14 272.19 L156.20 268.64 L156.27 265.01 L156.33 261.36 L156.39 257.75 L156.46 254.24 L156.52 250.90 L156.59 247.76 L156.65 244.89 L156.71 242.34 L156.78 240.14 L156.84 238.33 L156.90 236.94 L156.97 236.00 L157.03 235.52 L157.09 235.50 L157.16 235.95 L157.22 236.87 L157.29 238.22 L157.35 240.01 L157.41 242.18 L157.48 244.71 L157.54 247.56 L157.60 250.68 L157.67 254.02 L157.73 257.51 L157.79 261.12 L157.86 264.76 L157.92 268.39 L157.99 271.95 L158.05 275.38 L158.11 278.61 L158.18 281.60 L158.24 284.29 L158.30 286.65 L158.37 288.64 L158.43 290.21 L158.50 291.35 L158.56 292.03 L158.62 292.25 L158.69 292.00 L158.75 291.28 L158.81 290.12 L158.88 288.52 L158.94 286.51 L159.00 284.12 L159.07 281.41 L159.13 278.40 L159.20 275.15 L159.26 271.72 L159.32 268.15 L159.39 264.52 L159.45 260.87 L159.51 257.28 L159.58 253.79 L159.64 250.47 L159.70 247.36 L159.77 244.54 L159.83 242.02 L159.90 239.88 L159.96 238.12 L160.02 236.79 L160.09 235.91 L160.15 235.49 L160.21 235.53 L160.28 236.05 L160.34 237.02 L160.41 238.44 L160.47 240.27 L160.53 242.50 L160.60 245.08 L160.66 247.96 L160.72 251.11 L160.79 254.47 L160.85 257.99 L160.91 261.60 L160.98 265.25 L161.04 268.87 L161.11 272.42 L161.17 275.82 L161.23 279.02 L161.30 281.98 L161.36 284.63 L161.42 286.94 L161.49 288.87 L161.55 290.39 L161.61 291.46 L161.68 292.09 L161.74 292.24 L161.81 291.93 L161.87 291.16 L161.93 289.93 L162.00 288.27 L162.06 286.21 L162.12 283.78 L162.19 281.02 L162.25 277.98 L162.32 274.70 L162.38 271.25 L162.44 267.67 L162.51 264.03 L162.57 260.39 L162.63 256.80 L162.70 253.33 L162.76 250.04 L162.82 246.97 L162.89 244.18 L162.95 241.72 L163.02 239.62 L163.08 237.92 L163.14 236.65 L163.21 235.83 L163.27 235.47 L163.33 235.58 L163.40 236.15 L163.46 237.19 L163.53 238.66 L163.59 240.55 L163.65 242.82 L163.72 245.45 L163.78 248.37 L163.84 251.55 L163.91 254.94 L163.97 258.47 L164.03 262.09 L164.10 265.74 L164.16 269.35 L164.23 272.88 L164.29 276.26 L164.35 279.43 L164.42 282.35 L164.48 284.96 L164.54 287.22 L164.61 289.10 L164.67 290.56 L164.73 291.57 L164.80 292.14 L164.86 292.23 L164.93 291.85 L164.99 291.02 L165.05 289.73 L165.12 288.02 L165.18 285.91 L165.24 283.43 L165.31 280.63 L165.37 277.56 L165.44 274.25 L165.50 270.78 L165.56 267.19 L165.63 263.55 L165.69 259.91 L165.75 256.33 L165.82 252.88 L165.88 249.61 L165.94 246.58 L166.01 243.83 L166.07 241.41 L166.14 239.37 L166.20 237.72 L166.26 236.51 L166.33 235.75 L166.39 235.45 L166.45 235.63 L166.52 236.26 L166.58 237.36 L166.64 238.89 L166.71 240.83 L166.77 243.15 L166.84 245.82 L166.90 248.78 L166.96 251.99 L167.03 255.40 L167.09 258.95 L167.15 262.57 L167.22 266.22 L167.28 269.83 L167.35 273.34 L167.41 276.69 L167.47 279.84 L167.54 282.71 L167.60 285.28 L167.66 287.49 L167.73 289.32 L167.79 290.72 L167.85 291.68 L167.92 292.17 L167.98 292.21 L168.05 291.77 L168.11 290.87 L168.17 289.53 L168.24 287.76 L168.30 285.60 L168.36 283.08 L168.43 280.24 L168.49 277.13 L168.55 273.80 L168.62 270.31 L168.68 266.71 L168.75 263.06 L168.81 259.43 L168.87 255.86 L168.94 252.44 L169.00 249.20 L169.06 246.20 L169.13 243.49 L169.19 241.12 L169.26 239.12 L169.32 237.54 L169.38 236.38 L169.45 235.68 L169.51 235.45 L169.57 235.68 L169.64 236.38 L169.70 237.54 L169.76 239.12 L169.83 241.12 L169.89 243.49 L169.96 246.20 L170.02 249.20 L170.08 252.44 L170.15 255.86 L170.21 259.43 L170.27 263.06 L170.34 266.71 L170.40 270.31 L170.47 273.80 L170.53 277.13 L170.59 280.24 L170.66 283.08 L170.72 285.60 L170.78 287.76 L170.85 289.53 L170.91 290.87 L170.97 291.77 L171.04 292.21 L171.10 292.17 L171.17 291.68 L171.23 290.72 L171.29 289.32 L171.36 287.49 L171.42 285.28 L171.48 282.71 L171.55 279.84 L171.61 276.69 L171.67 273.34 L171.74 269.83 L171.80 266.22 L171.87 262.57 L171.93 258.95 L171.99 255.40 L172.06 251.99 L172.12 248.78 L172.18 245.82 L172.25 243.15 L172.31 240.83 L172.38 238.89 L172.44 237.36 L172.50 236.26 L172.57 235.63 L172.63 235.45 L172.69 235.75 L172.76 236.51 L172.82 237.72 L172.88 239.37 L172.95 241.41 L173.01 243.83 L173.08 246.58 L173.14 249.61 L173.20 252.88 L173.27 256.33 L173.33 259.91 L173.39 263.55 L173.46 267.19 L173.52 270.78 L173.58 274.25 L173.65 277.56 L173.71 280.63 L173.78 283.43 L173.84 285.91 L173.90 288.02 L173.97 289.73 L174.03 291.02 L174.09 291.85 L174.16 292.23 L174.22 292.14 L174.29 291.57 L174.35 290.56 L174.41 289.10 L174.48 287.22 L174.54 284.96 L174.60 282.35 L174.67 279.43 L174.73 276.26 L174.79 272.88 L174.86 269.35 L174.92 265.74 L174.99 262.09 L175.05 258.47 L175.11 254.94 L175.18 251.55 L175.24 248.37 L175.30 245.45 L175.37 242.82 L175.43 240.55 L175.49 238.66 L175.56 237.19 L175.62 236.15 L175.69 235.58 L175.75 235.47 L175.81 235.83 L175.88 236.65 L175.94 237.92 L176.00 239.62 L176.07 241.72 L176.13 244.18 L176.20 246.97 L176.26 250.04 L176.32 253.33 L176.39 256.80 L176.45 260.39 L176.51 264.03 L176.58 267.67 L176.64 271.25 L176.70 274.70 L176.77 277.98 L176.83 281.02 L176.90 283.78 L176.96 286.21 L177.02 288.27 L177.09 289.93 L177.15 291.16 L177.21 291.93 L177.28 292.24 L177.34 292.09 L177.41 291.46 L177.47 290.39 L177.53 288.87 L177.60 286.94 L177.66 284.63 L177.72 281.98 L177.79 279.02 L177.85 275.82 L177.91 272.42 L177.98 268.87 L178.04 265.25 L178.11 261.60 L178.17 257.99 L178.23 254.47 L178.30 251.11 L178.36 247.96 L178.42 245.08 L178.49 242.50 L178.55 240.27 L178.61 238.44 L178.68 237.02 L178.74 236.05 L178.81 235.53 L178.87 235.49 L178.93 235.91 L179.00 236.79 L179.06 238.12 L179.12 239.88 L179.19 242.02 L179.25 244.54 L179.32 247.36 L179.38 250.47 L179.44 253.79 L179.51 257.28 L179.57 260.87 L179.63 264.52 L179.70 268.15 L179.76 271.72 L179.82 275.15 L179.89 278.40 L179.95 281.41 L180.02 284.12 L180.08 286.51 L180.14 288.52 L180.21 290.12 L180.27 291.28 L180.33 292.00 L180.40 292.25 L180.46 292.03 L180.52 291.35 L180.59 290.21 L180.65 288.64 L180.72 286.65 L180.78 284.29 L180.84 281.60 L180.91 278.61 L180.97 275.38 L181.03 271.95 L181.10 268.39 L181.16 264.76 L181.23 261.12 L181.29 257.51 L181.35 254.02 L181.42 250.68 L181.48 247.56 L181.54 244.71 L181.61 242.18 L181.67 240.01 L181.73 238.22 L181.80 236.87 L181.86 235.95 L181.93 235.50 L181.99 235.52 L182.05 236.00 L182.12 236.94 L182.18 238.33 L182.24 240.14 L182.31 242.34 L182.37 244.89 L182.43 247.76 L182.50 250.90 L182.56 254.24 L182.63 257.75 L182.69 261.36 L182.75 265.01 L182.82 268.64 L182.88 272.19 L182.94 275.60 L183.01 278.82 L183.07 281.79 L183.14 284.46 L183.20 286.80 L183.26 288.75 L183.33 290.30 L183.39 291.41 L183.45 292.06 L183.52 292.25 L183.58 291.97 L183.64 291.22 L183.71 290.02 L183.77 288.39 L183.84 286.36 L183.90 283.95 L183.96 281.22 L184.03 278.19 L184.09 274.93 L184.15 271.48 L184.22 267.91 L184.28 264.28 L184.35 260.63 L184.41 257.04 L184.47 253.56 L184.54 250.25 L184.60 247.17 L184.66 244.36 L184.73 241.87 L184.79 239.75 L184.85 238.02 L184.92 236.72 L184.98 235.87 L185.05 235.48 L185.11 235.55 L185.17 236.10 L185.24 237.10 L185.30 238.55 L185.36 240.41 L185.43 242.66 L185.49 245.26 L185.55 248.17 L185.62 251.33 L185.68 254.70 L185.75 258.23 L185.81 261.84 L185.87 265.49 L185.94 269.11 L186.00 272.65 L186.06 276.04 L186.13 279.23 L186.19 282.16 L186.26 284.79 L186.32 287.08 L186.38 288.98 L186.45 290.47 L186.51 291.52 L186.57 292.11 L186.64 292.24 L186.70 291.89 L186.76 291.09 L186.83 289.83 L186.89 288.15 L186.96 286.06 L187.02 283.61 L187.08 280.83 L187.15 277.77 L187.21 274.48 L187.27 271.01 L187.34 267.43 L187.40 263.79 L187.46 260.15 L187.53 256.57 L187.59 253.11 L187.66 249.83 L187.72 246.78 L187.78 244.01 L187.85 241.56 L187.91 239.49 L187.97 237.82 L188.04 236.58 L188.10 235.79 L188.17 235.46 L188.23 235.60 L188.29 236.21 L188.36 237.27 L188.42 238.77 L188.48 240.69 L188.55 242.99 L188.61 245.63 L188.67 248.58 L188.74 251.77 L188.80 255.17 L188.87 258.71 L188.93 262.33 L188.99 265.98 L189.06 269.59 L189.12 273.11 L189.18 276.48 L189.25 279.63 L189.31 282.53 L189.37 285.12 L189.44 287.36 L189.50 289.21 L189.57 290.64 L189.63 291.63 L189.69 292.16 L189.76 292.22 L189.82 291.81 L189.88 290.95 L189.95 289.63 L190.01 287.89 L190.08 285.75 L190.14 283.25 L190.20 280.43 L190.27 277.34 L190.33 274.03 L190.39 270.54 L190.46 266.95 L190.52 263.30 L190.58 259.67 L190.65 256.10 L190.71 252.66 L190.78 249.40 L190.84 246.39 L190.90 243.66 L190.97 241.27 L191.03 239.24 L191.09 237.63 L191.16 236.45 L191.22 235.72 L191.29 235.45 L191.35 235.65 L191.41 236.32 L191.48 237.45 L191.54 239.01 L191.60 240.97 L191.67 243.32 L191.73 246.01 L191.79 248.99 L191.86 252.21 L191.92 255.63 L191.99 259.18 L192.05 262.82 L192.11 266.46 L192.18 270.07 L192.24 273.57 L192.30 276.91 L192.37 280.04 L192.43 282.90 L192.49 285.44 L192.56 287.63 L192.62 289.42 L192.69 290.80 L192.75 291.72 L192.81 292.19 L192.88 292.19 L192.94 291.72 L193.00 290.80 L193.07 289.42 L193.13 287.63 L193.20 285.44 L193.26 282.90 L193.32 280.04 L193.39 276.91 L193.45 273.57 L193.51 270.07 L193.58 266.46 L193.64 262.82 L193.70 259.18 L193.77 255.63 L193.83 252.21 L193.90 248.99 L193.96 246.01 L194.02 243.32 L194.09 240.97 L194.15 239.01 L194.21 237.45 L194.28 236.32 L194.34 235.65 L194.40 235.45 L194.47 235.72 L194.53 236.45 L194.60 237.63 L194.66 239.24 L194.72 241.27 L194.79 243.66 L194.85 246.39 L194.91 249.40 L194.98 252.66 L195.04 256.10 L195.11 259.67 L195.17 263.30 L195.23 266.95 L195.30 270.54 L195.36 274.03 L195.42 277.34 L195.49 280.43 L195.55 283.25 L195.61 285.75 L195.68 287.89 L195.74 289.63 L195.81 290.95 L195.87 291.81 L195.93 292.22 L196.00 292.16 L196.06 291.63 L196.12 290.64 L196.19 289.21 L196.25 287.36 L196.32 285.12 L196.38 282.53 L196.44 279.63 L196.51 276.48 L196.57 273.11 L196.63 269.59 L196.70 265.98 L196.76 262.33 L196.82 258.71 L196.89 255.17 L196.95 251.77 L197.02 248.58 L197.08 245.63 L197.14 242.99 L197.21 240.69 L197.27 238.77 L197.33 237.27 L197.40 236.21 L197.46 235.60 L197.52 235.46 L197.59 235.79 L197.65 236.58 L197.72 237.82 L197.78 239.49 L197.84 241.56 L197.91 244.01 L197.97 246.78 L198.03 249.83 L198.10 253.11 L198.16 256.57 L198.23 260.15 L198.29 263.79 L198.35 267.43 L198.42 271.01 L198.48 274.48 L198.54 277.77 L198.61 280.83 L198.67 283.61 L198.73 286.06 L198.80 288.15 L198.86 289.83 L198.93 291.09 L198.99 291.89 L199.05 292.24 L199.12 292.11 L199.18 291.52 L199.24 290.47 L199.31 288.98 L199.37 287.08 L199.43 284.79 L199.50 282.16 L199.56 279.23 L199.63 276.04 L199.69 272.65 L199.75 269.11 L199.82 265.49 L199.88 261.84 L199.94 258.23 L200.01 254.70 L200.07 251.33 L200.14 248.17 L200.20 245.26 L200.26 242.66 L200.33 240.41 L200.39 238.55 L200.45 237.10 L200.52 236.10 L200.58 235.55 L200.64 235.48 L200.71 235.87 L200.77 236.72 L200.84 238.02 L200.90 239.75 L200.96 241.87 L201.03 244.36 L201.09 247.17 L201.15 250.25 L201.22 253.56 L201.28 257.04 L201.34 260.63 L201.41 264.28 L201.47 267.91 L201.54 271.48 L201.60 274.93 L201.66 278.19 L201.73 281.22 L201.79 283.95 L201.85 286.36 L201.92 288.39 L201.98 290.02 L202.05 291.22 L202.11 291.97 L202.17 292.25 L202.24 292.06 L202.30 291.41 L202.36 290.30 L202.43 288.75 L202.49 286.80 L202.55 284.46 L202.62 281.79 L202.68 278.82 L202.75 275.60 L202.81 272.19 L202.87 268.64 L202.94 265.01 L203.00 261.36 L203.06 257.75 L203.13 254.24 L203.19 250.90 L203.26 247.76 L203.32 244.89 L203.38 242.34 L203.45 240.14 L203.51 238.33 L203.57 236.94 L203.64 236.00 L203.70 235.52 L203.76 235.50 L203.83 235.95 L203.89 236.87 L203.96 238.22 L204.02 240.01 L204.08 242.18 L204.15 244.71 L204.21 247.56 L204.27 250.68 L204.34 254.02 L204.40 257.51 L204.46 261.12 L204.53 264.76 L204.59 268.39 L204.66 271.95 L204.72 275.38 L204.78 278.61 L204.85 281.60 L204.91 284.29 L204.97 286.65 L205.04 288.64 L205.10 290.21 L205.17 291.35 L205.23 292.03 L205.29 292.25 L205.36 292.00 L205.42 291.28 L205.48 290.12 L205.55 288.52 L205.61 286.51 L205.67 284.12 L205.74 281.41 L205.80 278.40 L205.87 275.15 L205.93 271.72 L205.99 268.15 L206.06 264.52 L206.12 260.87 L206.18 257.28 L206.25 253.79 L206.31 250.47 L206.37 247.36 L206.44 244.54 L206.50 242.02 L206.57 239.88 L206.63 238.12 L206.69 236.79 L206.76 235.91 L206.82 235.49 L206.88 235.53 L206.95 236.05 L207.01 237.02 L207.08 238.44 L207.14 240.27 L207.20 242.50 L207.27 245.08 L207.33 247.96 L207.39 251.11 L207.46 254.47 L207.52 257.99 L207.58 261.60 L207.65 265.25 L207.71 268.87 L207.78 272.42 L207.84 275.82 L207.90 279.02 L207.97 281.98 L208.03 284.63 L208.09 286.94 L208.16 288.87 L208.22 290.39 L208.28 291.46 L208.35 292.09 L208.41 292.24 L208.48 291.93 L208.54 291.16 L208.60 289.93 L208.67 288.27 L208.73 286.21 L208.79 283.78 L208.86 281.02 L208.92 277.98 L208.99 274.70 L209.05 271.25 L209.11 267.67 L209.18 264.03 L209.24 260.39 L209.30 256.80 L209.37 253.33 L209.43 250.04 L209.49 246.97 L209.56 244.18 L209.62 241.72 L209.69 239.62 L209.75 237.92 L209.81 236.65 L209.88 235.83 L209.94 235.47 L210.00 235.58 L210.07 236.15 L210.13 237.19 L210.20 238.66 L210.26 240.55 L210.32 242.82 L210.39 245.45 L210.45 248.37 L210.51 251.55 L210.58 254.94 L210.64 258.47 L210.70 262.09 L210.77 265.74 L210.83 269.35 L210.90 272.88 L210.96 276.26 L211.02 279.43 L211.09 282.35 L211.15 284.96 L211.21 287.22 L211.28 289.10 L211.34 290.56 L211.40 291.57 L211.47 292.14 L211.53 292.23 L211.60 291.85 L211.66 291.02 L211.72 289.73 L211.79 288.02 L211.85 285.91 L211.91 283.43 L211.98 280.63 L212.04 277.56 L212.11 274.25 L212.17 270.78 L212.23 267.19 L212.30 263.55 L212.36 259.91 L212.42 256.33 L212.49 252.88 L212.55 249.61 L212.61 246.58 L212.68 243.83 L212.74 241.41 L212.81 239.37 L212.87 237.72 L212.93 236.51 L213.00 235.75 L213.06 235.45 L213.12 235.63 L213.19 236.26 L213.25 237.36 L213.31 238.89 L213.38 240.83 L213.44 243.15 L213.51 245.82 L213.57 248.78 L213.63 251.99 L213.70 255.40 L213.76 258.95 L213.82 262.57 L213.89 266.22 L213.95 269.83 L214.02 273.34 L214.08 276.69 L214.14 279.84 L214.21 282.71 L214.27 285.28 L214.33 287.49 L214.40 289.32 L214.46 290.72 L214.52 291.68 L214.59 292.17 L214.65 292.21 L214.72 291.77 L214.78 290.87 L214.84 289.53 L214.91 287.76 L214.97 285.60 L215.03 283.08 L215.10 280.24 L215.16 277.13 L215.22 273.80 L215.29 270.31 L215.35 266.71 L215.42 263.06 L215.48 259.43 L215.54 255.86 L215.61 252.44 L215.67 249.20 L215.73 246.20 L215.80 243.49 L215.86 241.12 L215.93 239.12 L215.99 237.54 L216.05 236.38 L216.12 235.68 L216.18 235.45 L216.24 235.68 L216.31 236.38 L216.37 237.54 L216.43 239.12 L216.50 241.12 L216.56 243.49 L216.63 246.20 L216.69 249.20 L216.75 252.44 L216.82 255.86 L216.88 259.43 L216.94 263.06 L217.01 266.71 L217.07 270.31 L217.14 273.80 L217.20 277.13 L217.26 280.24 L217.33 283.08 L217.39 285.60 L217.45 287.76 L217.52 289.53 L217.58 290.87 L217.64 291.77 L217.71 292.21 L217.77 292.17 L217.84 291.68 L217.90 290.72 L217.96 289.32 L218.03 287.49 L218.09 285.28 L218.15 282.71 L218.22 279.84 L218.28 276.69 L218.34 273.34 L218.41 269.83 L218.47 266.22 L218.54 262.57 L218.60 258.95 L218.66 255.40 L218.73 251.99 L218.79 248.78 L218.85 245.82 L218.92 243.15 L218.98 240.83 L219.05 238.89 L219.11 237.36 L219.17 236.26 L219.24 235.63 L219.30 235.45 L219.36 235.75 L219.43 236.51 L219.49 237.72 L219.55 239.37 L219.62 241.41 L219.68 243.83 L219.75 246.58 L219.81 249.61 L219.87 252.88 L219.94 256.33 L220.00 259.91 L220.06 263.55 L220.13 267.19 L220.19 270.78 L220.25 274.25 L220.32 277.56 L220.38 280.63 L220.45 283.43 L220.51 285.91 L220.57 288.02 L220.64 289.73 L220.70 291.02 L220.76 291.85 L220.83 292.23 L220.89 292.14 L220.96 291.57 L221.02 290.56 L221.08 289.10 L221.15 287.22 L221.21 284.96 L221.27 282.35 L221.34 279.43 L221.40 276.26 L221.46 272.88 L221.53 269.35 L221.59 265.74 L221.66 262.09 L221.72 258.47 L221.78 254.94 L221.85 251.55 L221.91 248.37 L221.97 245.45 L222.04 242.82 L222.10 240.55 L222.16 238.66 L222.23 237.19 L222.29 236.15 L222.36 235.58 L222.42 235.47 L222.48 235.83 L222.55 236.65 L222.61 237.92 L222.67 239.62 L222.74 241.72 L222.80 244.18 L222.87 246.97 L222.93 250.04 L222.99 253.33 L223.06 256.80 L223.12 260.39 L223.18 264.03 L223.25 267.67 L223.31 271.25 L223.37 274.70 L223.44 277.98 L223.50 281.02 L223.57 283.78 L223.63 286.21 L223.69 288.27 L223.76 289.93 L223.82 291.16 L223.88 291.93 L223.95 292.24 L224.01 292.09 L224.08 291.46 L224.14 290.39 L224.20 288.87 L224.27 286.94 L224.33 284.63 L224.39 281.98 L224.46 279.02 L224.52 275.82 L224.58 272.42 L224.65 268.87 L224.71 265.25 L224.78 261.60 L224.84 257.99 L224.90 254.47 L224.97 251.11 L225.03 247.96 L225.09 245.08 L225.16 242.50 L225.22 240.27 L225.28 238.44 L225.35 237.02 L225.41 236.05 L225.48 235.53 L225.54 235.49 L225.60 235.91 L225.67 236.79 L225.73 238.12 L225.79 239.88 L225.86 242.02 L225.92 244.54 L225.99 247.36 L226.05 250.47 L226.11 253.79 L226.18 257.28 L226.24 260.87 L226.30 264.52 L226.37 268.15 L226.43 271.72 L226.49 275.15 L226.56 278.40 L226.62 281.41 L226.69 284.12 L226.75 286.51 L226.81 288.52 L226.88 290.12 L226.94 291.28 L227.00 292.00 L227.07 292.25 L227.13 292.03 L227.19 291.35 L227.26 290.21 L227.32 288.64 L227.39 286.65 L227.45 284.29 L227.51 281.60 L227.58 278.61 L227.64 275.38 L227.70 271.95 L227.77 268.39 L227.83 264.76 L227.90 261.12 L227.96 257.51 L228.02 254.02 L228.09 250.68 L228.15 247.56 L228.21 244.71 L228.28 242.18 L228.34 240.01 L228.40 238.22 L228.47 236.87 L228.53 235.95 L228.60 235.50 L228.66 235.52 L228.72 236.00 L228.79 236.94 L228.85 238.33 L228.91 240.14 L228.98 242.34 L229.04 244.89 L229.10 247.76 L229.17 250.90 L229.23 254.24 L229.30 257.75 L229.36 261.36 L229.42 265.01 L229.49 268.64 L229.55 272.19 L229.61 275.60 L229.68 278.82 L229.74 281.79 L229.81 284.46 L229.87 286.80 L229.93 288.75 L230.00 290.30 L230.06 291.41 L230.12 292.06 L230.19 292.25 L230.25 291.97 L230.31 291.22 L230.38 290.02 L230.44 288.39 L230.51 286.36 L230.57 283.95 L230.63 281.22 L230.70 278.19 L230.76 274.93 L230.82 271.48 L230.89 267.91 L230.95 264.28 L231.02 260.63 L231.08 257.04 L231.14 253.56 L231.21 250.25 L231.27 247.17 L231.33 244.36 L231.40 241.87 L231.46 239.75 L231.52 238.02 L231.59 236.72 L231.65 235.87 L231.72 235.48 L231.78 235.55 L231.84 236.10 L231.91 237.10 L231.97 238.55 L232.03 240.41 L232.10 242.66 L232.16 245.26 L232.22 248.17 L232.29 251.33 L232.35 254.70 L232.42 258.23 L232.48 261.84 L232.54 265.49 L232.61 269.11 L232.67 272.65 L232.73 276.04 L232.80 279.23 L232.86 282.16 L232.93 284.79 L232.99 287.08 L233.05 288.98 L233.12 290.47 L233.18 291.52 L233.24 292.11 L233.31 292.24 L233.37 291.89 L233.43 291.09 L233.50 289.83 L233.56 288.15 L233.63 286.06 L233.69 283.61 L233.75 280.83 L233.82 277.77 L233.88 274.48 L233.94 271.01 L234.01 267.43 L234.07 263.79 L234.13 260.15 L234.20 256.57 L234.26 253.11 L234.33 249.83 L234.39 246.78 L234.45 244.01 L234.52 241.56 L234.58 239.49 L234.64 237.82 L234.71 236.58 L234.77 235.79 L234.84 235.46 L234.90 235.60 L234.96 236.21 L235.03 237.27 L235.09 238.77 L235.15 240.69 L235.22 242.99 L235.28 245.63 L235.34 248.58 L235.41 251.77 L235.47 255.17 L235.54 258.71 L235.60 262.33 L235.66 265.98 L235.73 269.59 L235.79 273.11 L235.85 276.48 L235.92 279.63 L235.98 282.53 L236.04 285.12 L236.11 287.36 L236.17 289.21 L236.24 290.64 L236.30 291.63 L236.36 292.16 L236.43 292.22 L236.49 291.81 L236.55 290.95 L236.62 289.63 L236.68 287.89 L236.75 285.75 L236.81 283.25 L236.87 280.43 L236.94 277.34 L237.00 274.03 L237.06 270.54 L237.13 266.95 L237.19 263.30 L237.25 259.67 L237.32 256.10 L237.38 252.66 L237.45 249.40 L237.51 246.39 L237.57 243.66 L237.64 241.27 L237.70 239.24 L237.76 237.63 L237.83 236.45 L237.89 235.72 L237.96 235.45 L238.02 235.65 L238.08 236.32 L238.15 237.45 L238.21 239.01 L238.27 240.97 L238.34 243.32 L238.40 246.01 L238.46 248.99 L238.53 252.21 L238.59 255.63 L238.66 259.18 L238.72 262.82 L238.78 266.46 L238.85 270.07 L238.91 273.57 L238.97 276.91 L239.04 280.04 L239.10 282.90 L239.16 285.44 L239.23 287.63 L239.29 289.42 L239.36 290.80 L239.42 291.72 L239.48 292.19 L239.55 292.19 L239.61 291.72 L239.67 290.80 L239.74 289.42 L239.80 287.63 L239.87 285.44 L239.93 282.90 L239.99 280.04 L240.06 276.91 L240.12 273.57 L240.18 270.07 L240.25 266.46 L240.31 262.82 L240.37 259.18 L240.44 255.63 L240.50 252.21 L240.57 248.99 L240.63 246.01 L240.69 243.32 L240.76 240.97 L240.82 239.01 L240.88 237.45 L240.95 236.32 L241.01 235.65 L241.07 235.45 L241.14 235.72 L241.20 236.45 L241.27 237.63 L241.33 239.24 L241.39 241.27 L241.46 243.66 L241.52 246.39 L241.58 249.40 L241.65 252.66 L241.71 256.10 L241.78 259.67 L241.84 263.30 L241.90 266.95 L241.97 270.54 L242.03 274.03 L242.09 277.34 L242.16 280.43 L242.22 283.25 L242.28 285.75 L242.35 287.89 L242.41 289.63 L242.48 290.95 L242.54 291.81 L242.60 292.22 L242.67 292.16 L242.73 291.63 L242.79 290.64 L242.86 289.21 L242.92 287.36 L242.99 285.12 L243.05 282.53 L243.11 279.63 L243.18 276.48 L243.24 273.11 L243.30 269.59 L243.37 265.98 L243.43 262.33 L243.49 258.71 L243.56 255.17 L243.62 251.77 L243.69 248.58 L243.75 245.63 L243.81 242.99 L243.88 240.69 L243.94 238.77 L244.00 237.27 L244.07 236.21 L244.13 235.60 L244.19 235.46 L244.26 235.79 L244.32 236.58 L244.39 237.82 L244.45 239.49 L244.51 241.56 L244.58 244.01 L244.64 246.78 L244.70 249.83 L244.77 253.11 L244.83 256.57 L244.90 260.15 L244.96 263.79 L245.02 267.43 L245.09 271.01 L245.15 274.48 L245.21 277.77 L245.28 280.83 L245.34 283.61 L245.40 286.06 L245.47 288.15 L245.53 289.83 L245.60 291.09 L245.66 291.89 L245.72 292.24 L245.79 292.11 L245.85 291.52 L245.91 290.47 L245.98 288.98 L246.04 287.08 L246.10 284.79 L246.17 282.16 L246.23 279.23 L246.30 276.04 L246.36 272.65 L246.42 269.11 L246.49 265.49 L246.55 261.84 L246.61 258.23 L246.68 254.70 L246.74 251.33 L246.81 248.17 L246.87 245.26 L246.93 242.66 L247.00 240.41 L247.06 238.55 L247.12 237.10 L247.19 236.10 L247.25 235.55 L247.31 235.48 L247.38 235.87 L247.44 236.72 L247.51 238.02 L247.57 239.75 L247.63 241.87 L247.70 244.36 L247.76 247.17 L247.82 250.25 L247.89 253.56 L247.95 257.04 L248.01 260.63 L248.08 264.28 L248.14 267.91 L248.21 271.48 L248.27 274.93 L248.33 278.19 L248.40 281.22 L248.46 283.95 L248.52 286.36 L248.59 288.39 L248.65 290.02 L248.72 291.22 L248.78 291.97 L248.84 292.25 L248.91 292.06 L248.97 291.41 L249.03 290.30 L249.10 288.75 L249.16 286.80 L249.22 284.46 L249.29 281.79 L249.35 278.82 L249.42 275.60 L249.48 272.19 L249.54 268.64 L249.61 265.01 L249.67 261.36 L249.73 257.75 L249.80 254.24 L249.86 250.90 L249.93 247.76 L249.99 244.89 L250.05 242.34 L250.12 240.14 L250.18 238.33 L250.24 236.94 L250.31 236.00 L250.37 235.52 L250.43 235.50 L250.50 235.95 L250.56 236.87 L250.63 238.22 L250.69 240.01 L250.75 242.18 L250.82 244.71 L250.88 247.56 L250.94 250.68 L251.01 254.02 L251.07 257.51 L251.13 261.12 L251.20 264.76 L251.26 268.39 L251.33 271.95 L251.39 275.38 L251.45 278.61 L251.52 281.60 L251.58 284.29 L251.64 286.65 L251.71 288.64 L251.77 290.21 L251.84 291.35 L251.90 292.03 L251.96 292.25 L252.03 292.00 L252.09 291.28 L252.15 290.12 L252.22 288.52 L252.28 286.51 L252.34 284.12 L252.41 281.41 L252.47 278.40 L252.54 275.15 L252.60 271.72 L252.66 268.15 L252.73 264.52 L252.79 260.87 L252.85 257.28 L252.92 253.79 L252.98 250.47 L253.04 247.36 L253.11 244.54 L253.17 242.02 L253.24 239.88 L253.30 238.12 L253.36 236.79 L253.43 235.91 L253.49 235.49 L253.55 235.53 L253.62 236.05 L253.68 237.02 L253.75 238.44 L253.81 240.27 L253.87 242.50 L253.94 245.08 L254.00 247.96 L254.06 251.11 L254.13 254.47 L254.19 257.99 L254.25 261.60 L254.32 265.25 L254.38 268.87 L254.45 272.42 L254.51 275.82 L254.57 279.02 L254.64 281.98 L254.70 284.63 L254.76 286.94 L254.83 288.87 L254.89 290.39 L254.95 291.46 L255.02 292.09 L255.08 292.24 L255.15 291.93 L255.21 291.16 L255.27 289.93 L255.34 288.27 L255.40 286.21 L255.46 283.78 L255.53 281.02 L255.59 277.98 L255.66 274.70 L255.72 271.25 L255.78 267.67 L255.85 264.03 L255.91 260.39 L255.97 256.80 L256.04 253.33 L256.10 250.04 L256.16 246.97 L256.23 244.18 L256.29 241.72 L256.36 239.62 L256.42 237.92 L256.48 236.65 L256.55 235.83 L256.61 235.47 L256.67 235.58 L256.74 236.15 L256.80 237.19 L256.87 238.66 L256.93 240.55 L256.99 242.82 L257.06 245.45 L257.12 248.37 L257.18 251.55 L257.25 254.94 L257.31 258.47 L257.37 262.09 L257.44 265.74 L257.50 269.35 L257.57 272.88 L257.63 276.26 L257.69 279.43 L257.76 282.35 L257.82 284.96 L257.88 287.22 L257.95 289.10 L258.01 290.56 L258.07 291.57 L258.14 292.14 L258.20 292.23 L258.27 291.85 L258.33 291.02 L258.39 289.73 L258.46 288.02 L258.52 285.91 L258.58 283.43 L258.65 280.63 L258.71 277.56 L258.78 274.25 L258.84 270.78 L258.90 267.19 L258.97 263.55 L259.03 259.91 L259.09 256.33 L259.16 252.88 L259.22 249.61 L259.28 246.58 L259.35 243.83 L259.41 241.41 L259.48 239.37 L259.54 237.72 L259.60 236.51 L259.67 235.75 L259.73 235.45 L259.79 235.63 L259.86 236.26 L259.92 237.36 L259.98 238.89 L260.05 240.83 L260.11 243.15 L260.18 245.82 L260.24 248.78 L260.30 251.99 L260.37 255.40 L260.43 258.95 L260.49 262.57 L260.56 266.22 L260.62 269.83 L260.69 273.34 L260.75 276.69 L260.81 279.84 L260.88 282.71 L260.94 285.28 L261.00 287.49 L261.07 289.32 L261.13 290.72 L261.19 291.68 L261.26 292.17 L261.32 292.21 L261.39 291.77 L261.45 290.87 L261.51 289.53 L261.58 287.76 L261.64 285.60 L261.70 283.08 L261.77 280.24 L261.83 277.13 L261.89 273.80 L261.96 270.31 L262.02 266.71 L262.09 263.06 L262.15 259.43 L262.21 255.86 L262.28 252.44 L262.34 249.20 L262.40 246.20 L262.47 243.49 L262.53 241.12 L262.60 239.12 L262.66 237.54 L262.72 236.38 L262.79 235.68 L262.85 235.45 L262.91 235.68 L262.98 236.38 L263.04 237.54 L263.10 239.12 L263.17 241.12 L263.23 243.49 L263.30 246.20 L263.36 249.20 L263.42 252.44 L263.49 255.86 L263.55 259.43 L263.61 263.06 L263.68 266.71 L263.74 270.31 L263.81 273.80 L263.87 277.13 L263.93 280.24 L264.00 283.08 L264.06 285.60 L264.12 287.76 L264.19 289.53 L264.25 290.87 L264.31 291.77 L264.38 292.21 L264.44 292.17 L264.51 291.68 L264.57 290.72 L264.63 289.32 L264.70 287.49 L264.76 285.28 L264.82 282.71 L264.89 279.84 L264.95 276.69 L265.01 273.34 L265.08 269.83 L265.14 266.22 L265.21 262.57 L265.27 258.95 L265.33 255.40 L265.40 251.99 L265.46 248.78 L265.52 245.82 L265.59 243.15 L265.65 240.83 L265.72 238.89 L265.78 237.36 L265.84 236.26 L265.91 235.63 L265.97 235.45 L266.03 235.75 L266.10 236.51 L266.16 237.72 L266.22 239.37 L266.29 241.41 L266.35 243.83 L266.42 246.58 L266.48 249.61 L266.54 252.88 L266.61 256.33 L266.67 259.91 L266.73 263.55 L266.80 267.19 L266.86 270.78 L266.92 274.25 L266.99 277.56 L267.05 280.63 L267.12 283.43 L267.18 285.91 L267.24 288.02 L267.31 289.73 L267.37 291.02 L267.43 291.85 L267.50 292.23 L267.56 292.14 L267.63 291.57 L267.69 290.56 L267.75 289.10 L267.82 287.22 L267.88 284.96 L267.94 282.35 L268.01 279.43 L268.07 276.26 L268.13 272.88 L268.20 269.35 L268.26 265.74 L268.33 262.09 L268.39 258.47 L268.45 254.94 L268.52 251.55 L268.58 248.37 L268.64 245.45 L268.71 242.82 L268.77 240.55 L268.83 238.66 L268.90 237.19 L268.96 236.15 L269.03 235.58 L269.09 235.47 L269.15 235.83 L269.22 236.65 L269.28 237.92 L269.34 239.62 L269.41 241.72 L269.47 244.18 L269.54 246.97 L269.60 250.04 L269.66 253.33 L269.73 256.80 L269.79 260.39 L269.85 264.03 L269.92 267.67 L269.98 271.25 L270.04 274.70 L270.11 277.98 L270.17 281.02 L270.24 283.78 L270.30 286.21 L270.36 288.27 L270.43 289.93 L270.49 291.16 L270.55 291.93 L270.62 292.24 L270.68 292.09 L270.75 291.46 L270.81 290.39 L270.87 288.87 L270.94 286.94 L271.00 284.63 L271.06 281.98 L271.13 279.02 L271.19 275.82 L271.25 272.42 L271.32 268.87 L271.38 265.25 L271.45 261.60 L271.51 257.99 L271.57 254.47 L271.64 251.11 L271.70 247.96 L271.76 245.08 L271.83 242.50 L271.89 240.27 L271.95 238.44 L272.02 237.02 L272.08 236.05 L272.15 235.53 L272.21 235.49 L272.27 235.91 L272.34 236.79 L272.40 238.12 L272.46 239.88 L272.53 242.02 L272.59 244.54 L272.66 247.36 L272.72 250.47 L272.78 253.79 L272.85 257.28 L272.91 260.87 L272.97 264.52 L273.04 268.15 L273.10 271.72 L273.16 275.15 L273.23 278.40 L273.29 281.41 L273.36 284.12 L273.42 286.51 L273.48 288.52 L273.55 290.12 L273.61 291.28 L273.67 292.00 L273.74 292.25 L273.80 292.03 L273.86 291.35 L273.93 290.21 L273.99 288.64 L274.06 286.65 L274.12 284.29 L274.18 281.60 L274.25 278.61 L274.31 275.38 L274.37 271.95 L274.44 268.39 L274.50 264.76 L274.57 261.12 L274.63 257.51 L274.69 254.02 L274.76 250.68 L274.82 247.56 L274.88 244.71 L274.95 242.18 L275.01 240.01 L275.07 238.22 L275.14 236.87 L275.20 235.95 L275.27 235.50 L275.33 235.52 L275.39 236.00 L275.46 236.94 L275.52 238.33 L275.58 240.14 L275.65 242.34 L275.71 244.89 L275.77 247.76 L275.84 250.90 L275.90 254.24 L275.97 257.75 L276.03 261.36 L276.09 265.01 L276.16 268.64 L276.22 272.19 L276.28 275.60 L276.35 278.82 L276.41 281.79 L276.48 284.46 L276.54 286.80 L276.60 288.75 L276.67 290.30 L276.73 291.41 L276.79 292.06 L276.86 292.25 L276.92 291.97 L276.98 291.22 L277.05 290.02 L277.11 288.39 L277.18 286.36 L277.24 283.95 L277.30 281.22 L277.37 278.19 L277.43 274.93 L277.49 271.48 L277.56 267.91 L277.62 264.28 L277.69 260.63 L277.75 257.04 L277.81 253.56 L277.88 250.25 L277.94 247.17 L278.00 244.36 L278.07 241.87 L278.13 239.75 L278.19 238.02 L278.26 236.72 L278.32 235.87 L278.39 235.48 L278.45 235.55 L278.51 236.10 L278.58 237.10 L278.64 238.55 L278.70 240.41 L278.77 242.66 L278.83 245.26 L278.89 248.17 L278.96 251.33 L279.02 254.70 L279.09 258.23 L279.15 261.84 L279.21 265.49 L279.28 269.11 L279.34 272.65 L279.40 276.04 L279.47 279.23 L279.53 282.16 L279.60 284.79 L279.66 287.08 L279.72 288.98 L279.79 290.47 L279.85 291.52 L279.91 292.11 L279.98 292.24 L280.04 291.89 L280.10 291.09 L280.17 289.83 L280.23 288.15 L280.30 286.06 L280.36 283.61 L280.42 280.83 L280.49 277.77 L280.55 274.48 L280.61 271.01 L280.68 267.43 L280.74 263.79 L280.80 260.15 L280.87 256.57 L280.93 253.11 L281.00 249.83 L281.06 246.78 L281.12 244.01 L281.19 241.56 L281.25 239.49 L281.31 237.82 L281.38 236.58 L281.44 235.79 L281.51 235.46 L281.57 235.60 L281.63 236.21 L281.70 237.27 L281.76 238.77 L281.82 240.69 L281.89 242.99 L281.95 245.63 L282.01 248.58 L282.08 251.77 L282.14 255.17 L282.21 258.71 L282.27 262.33 L282.33 265.98 L282.40 269.59 L282.46 273.11 L282.52 276.48 L282.59 279.63 L282.65 282.53 L282.71 285.12 L282.78 287.36 L282.84 289.21 L282.91 290.64 L282.97 291.63 L283.03 292.16 L283.10 292.22 L283.16 291.81 L283.22 290.95 L283.29 289.63 L283.35 287.89 L283.42 285.75 L283.48 283.25 L283.54 280.43 L283.61 277.34 L283.67 274.03 L283.73 270.54 L283.80 266.95 L283.86 263.30 L283.92 259.67 L283.99 256.10 L284.05 252.66 L284.12 249.40 L284.18 246.39 L284.24 243.66 L284.31 241.27 L284.37 239.24 L284.43 237.63 L284.50 236.45 L284.56 235.72 L284.63 235.45 L284.69 235.65 L284.75 236.32 L284.82 237.45 L284.88 239.01 L284.94 240.97 L285.01 243.32 L285.07 246.01 L285.13 248.99 L285.20 252.21 L285.26 255.63 L285.33 259.18 L285.39 262.82 L285.45 266.46 L285.52 270.07 L285.58 273.57 L285.64 276.91 L285.71 280.04 L285.77 282.90 L285.83 285.44 L285.90 287.63 L285.96 289.42 L286.03 290.80 L286.09 291.72 L286.15 292.19 L286.22 292.19 L286.28 291.72 L286.34 290.80 L286.41 289.42 L286.47 287.63 L286.54 285.44 L286.60 282.90 L286.66 280.04 L286.73 276.91 L286.79 273.57 L286.85 270.07 L286.92 266.46 L286.98 262.82 L287.04 259.18 L287.11 255.63 L287.17 252.21 L287.24 248.99 L287.30 246.01 L287.36 243.32 L287.43 240.97 L287.49 239.01 L287.55 237.45 L287.62 236.32 L287.68 235.65 L287.74 235.45 L287.81 235.72 L287.87 236.45 L287.94 237.63 L288.00 239.24 L288.06 241.27 L288.13 243.66 L288.19 246.39 L288.25 249.40 L288.32 252.66 L288.38 256.10 L288.45 259.67 L288.51 263.30 L288.57 266.95 L288.64 270.54 L288.70 274.03 L288.76 277.34 L288.83 280.43 L288.89 283.25 L288.95 285.75 L289.02 287.89 L289.08 289.63 L289.15 290.95 L289.21 291.81 L289.27 292.22 L289.34 292.16 L289.40 291.63 L289.46 290.64 L289.53 289.21 L289.59 287.36 L289.66 285.12 L289.72 282.53 L289.78 279.63 L289.85 276.48 L289.91 273.11 L289.97 269.59 L290.04 265.98 L290.10 262.33 L290.16 258.71 L290.23 255.17 L290.29 251.77 L290.36 248.58 L290.42 245.63 L290.48 242.99 L290.55 240.69 L290.61 238.77 L290.67 237.27 L290.74 236.21 L290.80 235.60 L290.86 235.46 L290.93 235.79 L290.99 236.58 L291.06 237.82 L291.12 239.49 L291.18 241.56 L291.25 244.01 L291.31 246.78 L291.37 249.83 L291.44 253.11 L291.50 256.57 L291.57 260.15 L291.63 263.79 L291.69 267.43 L291.76 271.01 L291.82 274.48 L291.88 277.77 L291.95 280.83 L292.01 283.61 L292.07 286.06 L292.14 288.15 L292.20 289.83 L292.27 291.09 L292.33 291.89 L292.39 292.24 L292.46 292.11 L292.52 291.52 L292.58 290.47 L292.65 288.98 L292.71 287.08 L292.77 284.79 L292.84 282.16 L292.90 279.23 L292.97 276.04 L293.03 272.65 L293.09 269.11 L293.16 265.49 L293.22 261.84 L293.28 258.23 L293.35 254.70 L293.41 251.33 L293.48 248.17 L293.54 245.26 L293.60 242.66 L293.67 240.41 L293.73 238.55 L293.79 237.10 L293.86 236.10 L293.92 235.55 L293.98 235.48 L294.05 235.87 L294.11 236.72 L294.18 238.02 L294.24 239.75 L294.30 241.87 L294.37 244.36 L294.43 247.17 L294.49 250.25 L294.56 253.56 L294.62 257.04 L294.68 260.63 L294.75 264.28 L294.81 267.91 L294.88 271.48 L294.94 274.93 L295.00 278.19 L295.07 281.22 L295.13 283.95 L295.19 286.36 L295.26 288.39 L295.32 290.02 L295.39 291.22 L295.45 291.97 L295.51 292.25 L295.58 292.06 L295.64 291.41 L295.70 290.30 L295.77 288.75 L295.83 286.80 L295.89 284.46 L295.96 281.79 L296.02 278.82 L296.09 275.60 L296.15 272.19 L296.21 268.64 L296.28 265.01 L296.34 261.36 L296.40 257.75 L296.47 254.24 L296.53 250.90 L296.60 247.76 L296.66 244.89 L296.72 242.34 L296.79 240.14 L296.85 238.33 L296.91 236.94 L296.98 236.00 L297.04 235.52 L297.10 235.50 L297.17 235.95 L297.23 236.87 L297.30 238.22 L297.36 240.01 L297.42 242.18 L297.49 244.71 L297.55 247.56 L297.61 250.68 L297.68 254.02 L297.74 257.51 L297.80 261.12 L297.87 264.76 L297.93 268.39 L298.00 271.95 L298.06 275.38 L298.12 278.61 L298.19 281.60 L298.25 284.29 L298.31 286.65 L298.38 288.64 L298.44 290.21 L298.51 291.35 L298.57 292.03 L298.63 292.25 L298.70 292.00 L298.76 291.28 L298.82 290.12 L298.89 288.52 L298.95 286.51 L299.01 284.12 L299.08 281.41 L299.14 278.40 L299.21 275.15 L299.27 271.72 L299.33 268.15 L299.40 264.52 L299.46 260.87 L299.52 257.28 L299.59 253.79 L299.65 250.47 L299.71 247.36 L299.78 244.54 L299.84 242.02 L299.91 239.88 L299.97 238.12 L300.03 236.79 L300.10 235.91 L300.16 235.49 L300.22 235.53 L300.29 236.05 L300.35 237.02 L300.42 238.44 L300.48 240.27 L300.54 242.50 L300.61 245.08 L300.67 247.96 L300.73 251.11 L300.80 254.47 L300.86 257.99 L300.92 261.60 L300.99 265.25 L301.05 268.87 L301.12 272.42 L301.18 275.82 L301.24 279.02 L301.31 281.98 L301.37 284.63 L301.43 286.94 L301.50 288.87 L301.56 290.39 L301.62 291.46 L301.69 292.09 L301.75 292.24 L301.82 291.93 L301.88 291.16 L301.94 289.93 L302.01 288.27 L302.07 286.21 L302.13 283.78 L302.20 281.02 L302.26 277.98 L302.33 274.70 L302.39 271.25 L302.45 267.67 L302.52 264.03 L302.58 260.39 L302.64 256.80 L302.71 253.33 L302.77 250.04 L302.83 246.97 L302.90 244.18 L302.96 241.72 L303.03 239.62 L303.09 237.92 L303.15 236.65 L303.22 235.83 L303.28 235.47 L303.34 235.58 L303.41 236.15 L303.47 237.19 L303.54 238.66 L303.60 240.55 L303.66 242.82 L303.73 245.45 L303.79 248.37 L303.85 251.55 L303.92 254.94 L303.98 258.47 L304.04 262.09 L304.11 265.74 L304.17 269.35 L304.24 272.88 L304.30 276.26 L304.36 279.43 L304.43 282.35 L304.49 284.96 L304.55 287.22 L304.62 289.10 L304.68 290.56 L304.74 291.57 L304.81 292.14 L304.87 292.23 L304.94 291.85 L305.00 291.02 L305.06 289.73 L305.13 288.02 L305.19 285.91 L305.25 283.43 L305.32 280.63 L305.38 277.56 L305.45 274.25 L305.51 270.78 L305.57 267.19 L305.64 263.55 L305.70 259.91 L305.76 256.33 L305.83 252.88 L305.89 249.61 L305.95 246.58 L306.02 243.83 L306.08 241.41 L306.15 239.37 L306.21 237.72 L306.27 236.51 L306.34 235.75 L306.40 235.45 L306.46 235.63 L306.53 236.26 L306.59 237.36 L306.65 238.89 L306.72 240.83 L306.78 243.15 L306.85 245.82 L306.91 248.78 L306.97 251.99 L307.04 255.40 L307.10 258.95 L307.16 262.57 L307.23 266.22 L307.29 269.83 L307.36 273.34 L307.42 276.69 L307.48 279.84 L307.55 282.71 L307.61 285.28 L307.67 287.49 L307.74 289.32 L307.80 290.72 L307.86 291.68 L307.93 292.17 L307.99 292.21 L308.06 291.77 L308.12 290.87 L308.18 289.53 L308.25 287.76 L308.31 285.60 L308.37 283.08 L308.44 280.24 L308.50 277.13 L308.56 273.80 L308.63 270.31 L308.69 266.71 L308.76 263.06 L308.82 259.43 L308.88 255.86 L308.95 252.44 L309.01 249.20 L309.07 246.20 L309.14 243.49 L309.20 241.12 L309.27 239.12 L309.33 237.54 L309.39 236.38 L309.46 235.68 L309.52 235.45 L309.89 263.85 L496.20 263.85"/></g>
<text class="tk" text-anchor="middle" x="29.50" y="308.60">0</text>
<text class="tk" text-anchor="middle" x="76.17" y="308.60">1</text>
<text class="tk" text-anchor="middle" x="122.84" y="308.60">2</text>
<text class="tk" text-anchor="middle" x="169.51" y="308.60">3</text>
<text class="tk" text-anchor="middle" x="216.18" y="308.60">4</text>
<text class="tk" text-anchor="middle" x="262.85" y="308.60">5</text>
<text class="tk" text-anchor="middle" x="309.52" y="308.60">6</text>
<text class="tk" text-anchor="middle" x="356.19" y="308.60">7</text>
<text class="tk" text-anchor="middle" x="402.86" y="308.60">8</text>
<text class="tk" text-anchor="middle" x="449.53" y="308.60">9</text>
<text class="tk" text-anchor="middle" x="496.20" y="308.60">10</text>
<text class="tk" text-anchor="end" x="23.0" y="250.70">0.5</text>
<text class="tk" text-anchor="end" x="23.0" y="268.45">0</text>
<text class="tk" text-anchor="end" x="23.0" y="286.20">-0.5</text>
<text class="lb" text-anchor="middle" x="263.35" y="324.30">Time (s)</text>
<text class="tt" text-anchor="middle" x="262.85" y="231.20">(c)</text>
</g>
<g id="ax3">
<clipPath id="cp3"><rect x="29.0" y="343.75" width="467.7" height="57.90"/></clipPath>
<path class="tkm" d="M29.50 401.05v-4.1M29.50 344.35v4.1M76.17 401.05v-4.1M76.17 344.35v4.1M122.84 401.05v-4.1M122.84 344.35v4.1M169.51 401.05v-4.1M169.51 344.35v4.1M216.18 401.05v-4.1M216.18 344.35v4.1M262.85 401.05v-4.1M262.85 344.35v4.1M309.52 401.05v-4.1M309.52 344.35v4.1M356.19 401.05v-4.1M356.19 344.35v4.1M402.86 401.05v-4.1M402.86 344.35v4.1M449.53 401.05v-4.1M449.53 344.35v4.1M496.20 401.05v-4.1M496.20 344.35v4.1M29.50 352.85h4.1M496.20 352.85h-4.1M496.20 373.05h-4.1M29.50 393.25h4.1M496.20 393.25h-4.1"/>
<rect class="ax" x="29.5" y="344.35" width="466.70" height="56.70"/>
<g clip-path="url(#cp3)"><path class="ln" style="stroke-width:0.8" d="M29.50 373.05 L76.17 373.05 L122.84 373.05 L169.51 373.05 L216.18 373.05 L262.85 373.05 L309.05 373.05 L309.52 373.05 L309.99 350.17 L310.45 364.31 L310.92 381.79 L311.39 395.93 L311.85 401.33 L312.32 395.93 L312.79 381.79 L313.25 364.31 L313.72 350.17 L314.19 344.77 L314.65 350.17 L315.12 364.31 L315.59 381.79 L316.05 395.93 L316.52 401.33 L316.99 395.93 L317.45 381.79 L317.92 364.31 L318.39 350.17 L318.85 344.77 L319.32 350.17 L319.79 364.31 L320.25 381.79 L320.72 395.93 L321.19 401.33 L321.65 395.93 L322.12 381.79 L322.59 364.31 L323.05 350.17 L323.52 344.77 L323.99 350.17 L324.45 364.31 L324.92 381.79 L325.39 395.93 L325.85 401.33 L326.32 395.93 L326.79 381.79 L327.25 364.31 L327.72 350.17 L328.19 344.77 L328.65 350.17 L329.12 364.31 L329.59 381.79 L330.05 395.93 L330.52 401.33 L330.99 395.93 L331.45 381.79 L331.92 364.31 L332.39 350.17 L332.86 344.77 L333.32 350.17 L333.79 364.31 L334.26 381.79 L334.72 395.93 L335.19 401.33 L335.66 395.93 L336.12 381.79 L336.59 364.31 L337.06 350.17 L337.52 344.77 L337.99 350.17 L338.46 364.31 L338.92 381.79 L339.39 395.93 L339.86 401.33 L340.32 395.93 L340.79 381.79 L341.26 364.31 L341.72 350.17 L342.19 344.77 L342.66 350.17 L343.12 364.31 L343.59 381.79 L344.06 395.93 L344.52 401.33 L344.99 395.93 L345.46 381.79 L345.92 364.31 L346.39 350.17 L346.86 344.77 L347.32 350.17 L347.79 364.31 L348.26 381.79 L348.72 395.93 L349.19 401.33 L349.66 395.93 L350.12 381.79 L350.59 364.31 L351.06 350.17 L351.52 344.77 L351.99 350.17 L352.46 364.31 L352.92 381.79 L353.39 395.93 L353.86 401.33 L354.32 395.93 L354.79 381.79 L355.26 364.31 L355.72 350.17 L356.19 344.77 L356.66 350.17 L357.12 364.31 L357.59 381.79 L358.06 395.93 L358.52 401.33 L358.99 395.93 L359.46 381.79 L359.92 364.31 L360.39 350.17 L360.86 344.77 L361.32 350.17 L361.79 364.31 L362.26 381.79 L362.72 395.93 L363.19 401.33 L363.66 395.93 L364.12 381.79 L364.59 364.31 L365.06 350.17 L365.52 344.77 L365.99 350.17 L366.46 364.31 L366.92 381.79 L367.39 395.93 L367.86 401.33 L368.32 395.93 L368.79 381.79 L369.26 364.31 L369.72 350.17 L370.19 344.77 L370.66 350.17 L371.12 364.31 L371.59 381.79 L372.06 395.93 L372.52 401.33 L372.99 395.93 L373.46 381.79 L373.92 364.31 L374.39 350.17 L374.86 344.77 L375.32 350.17 L375.79 364.31 L376.26 381.79 L376.72 395.93 L377.19 401.33 L377.66 395.93 L378.12 381.79 L378.59 364.31 L379.06 350.17 L379.52 344.77 L379.99 350.17 L380.46 364.31 L380.93 381.79 L381.39 395.93 L381.86 401.33 L382.33 395.93 L382.79 381.79 L383.26 364.31 L383.73 350.17 L384.19 344.77 L384.66 350.17 L385.13 364.31 L385.59 381.79 L386.06 395.93 L386.53 401.33 L386.99 395.93 L387.46 381.79 L387.93 364.31 L388.39 350.17 L388.86 344.77 L389.33 350.17 L389.79 364.31 L390.26 381.79 L390.73 395.93 L391.19 401.33 L391.66 395.93 L392.13 381.79 L392.59 364.31 L393.06 350.17 L393.53 344.77 L393.99 350.17 L394.46 364.31 L394.93 381.79 L395.39 395.93 L395.86 401.33 L396.33 395.93 L396.79 381.79 L397.26 364.31 L397.73 350.17 L398.19 344.77 L398.66 350.17 L399.13 364.31 L399.59 381.79 L400.06 395.93 L400.53 401.33 L400.99 395.93 L401.46 381.79 L401.93 364.31 L402.39 350.17 L402.86 344.77 L403.33 350.17 L403.79 364.31 L404.26 381.79 L404.73 395.93 L405.19 401.33 L405.66 395.93 L406.13 381.79 L406.59 364.31 L407.06 350.17 L407.53 344.77 L407.99 350.17 L408.46 364.31 L408.93 381.79 L409.39 395.93 L409.86 401.33 L410.33 395.93 L410.79 381.79 L411.26 364.31 L411.73 350.17 L412.19 344.77 L412.66 350.17 L413.13 364.31 L413.59 381.79 L414.06 395.93 L414.53 401.33 L414.99 395.93 L415.46 381.79 L415.93 364.31 L416.39 350.17 L416.86 344.77 L417.33 350.17 L417.79 364.31 L418.26 381.79 L418.73 395.93 L419.19 401.33 L419.66 395.93 L420.13 381.79 L420.59 364.31 L421.06 350.17 L421.53 344.77 L421.99 350.17 L422.46 364.31 L422.93 381.79 L423.39 395.93 L423.86 401.33 L424.33 395.93 L424.79 381.79 L425.26 364.31 L425.73 350.17 L426.19 344.77 L426.66 350.17 L427.13 364.31 L427.60 381.79 L428.06 395.93 L428.53 401.33 L429.00 395.93 L429.46 381.79 L429.93 364.31 L430.40 350.17 L430.86 344.77 L431.33 350.17 L431.80 364.31 L432.26 381.79 L432.73 395.93 L433.20 401.33 L433.66 395.93 L434.13 381.79 L434.60 364.31 L435.06 350.17 L435.53 344.77 L436.00 350.17 L436.46 364.31 L436.93 381.79 L437.40 395.93 L437.86 401.33 L438.33 395.93 L438.80 381.79 L439.26 364.31 L439.73 350.17 L440.20 344.77 L440.66 350.17 L441.13 364.31 L441.60 381.79 L442.06 395.93 L442.53 401.33 L443.00 395.93 L443.46 381.79 L443.93 364.31 L444.40 350.17 L444.86 344.77 L445.33 350.17 L445.80 364.31 L446.26 381.79 L446.73 395.93 L447.20 401.33 L447.66 395.93 L448.13 381.79 L448.60 364.31 L449.06 350.17 L449.53 344.77 L450.00 350.17 L450.46 364.31 L450.93 381.79 L451.40 395.93 L451.86 401.33 L452.33 395.93 L452.80 381.79 L453.26 364.31 L453.73 350.17 L454.20 344.77 L454.66 350.17 L455.13 364.31 L455.60 381.79 L456.06 395.93 L456.53 401.33 L457.00 395.93 L457.46 381.79 L457.93 364.31 L458.40 350.17 L458.86 344.77 L459.33 350.17 L459.80 364.31 L460.26 381.79 L460.73 395.93 L461.20 401.33 L461.66 395.93 L462.13 381.79 L462.60 364.31 L463.06 350.17 L463.53 344.77 L464.00 350.17 L464.46 364.31 L464.93 381.79 L465.40 395.93 L465.86 401.33 L466.33 395.93 L466.80 381.79 L467.26 364.31 L467.73 350.17 L468.20 344.77 L468.66 350.17 L469.13 364.31 L469.60 381.79 L470.06 395.93 L470.53 401.33 L471.00 395.93 L471.46 381.79 L471.93 364.31 L472.40 350.17 L472.86 344.77 L473.33 350.17 L473.80 364.31 L474.27 381.79 L474.73 395.93 L475.20 401.33 L475.67 395.93 L476.13 381.79 L476.60 364.31 L477.07 350.17 L477.53 344.77 L478.00 350.17 L478.47 364.31 L478.93 381.79 L479.40 395.93 L479.87 401.33 L480.33 395.93 L480.80 381.79 L481.27 364.31 L481.73 350.17 L482.20 344.77 L482.67 350.17 L483.13 364.31 L483.60 381.79 L484.07 395.93 L484.53 401.33 L485.00 395.93 L485.47 381.79 L485.93 364.31 L486.40 350.17 L486.87 344.77 L487.33 350.17 L487.80 364.31 L488.27 381.79 L488.73 395.93 L489.20 401.33 L489.67 395.93 L490.13 381.79 L490.60 364.31 L491.07 350.17 L491.53 344.77 L492.00 350.17 L492.47 364.31 L492.93 381.79 L493.40 395.93 L493.87 401.33 L494.33 395.93 L494.80 381.79 L495.27 364.31 L495.73 350.17 L496.20 344.77"/></g>
<text class="tk" text-anchor="middle" x="29.50" y="417.55">0</text>
<text class="tk" text-anchor="middle" x="76.17" y="417.55">1</text>
<text class="tk" text-anchor="middle" x="122.84" y="417.55">2</text>
<text class="tk" text-anchor="middle" x="169.51" y="417.55">3</text>
<text class="tk" text-anchor="middle" x="216.18" y="417.55">4</text>
<text class="tk" text-anchor="middle" x="262.85" y="417.55">5</text>
<text class="tk" text-anchor="middle" x="309.52" y="417.55">6</text>
<text class="tk" text-anchor="middle" x="356.19" y="417.55">7</text>
<text class="tk" text-anchor="middle" x="402.86" y="417.55">8</text>
<text class="tk" text-anchor="middle" x="449.53" y="417.55">9</text>
<text class="tk" text-anchor="middle" x="496.20" y="417.55">10</text>
<text class="tk" text-anchor="end" x="23.0" y="357.45">0.5</text>
<text class="tk" text-anchor="end" x="23.0" y="377.65">0</text>
<text class="tk" text-anchor="end" x="23.0" y="397.85">-0.5</text>
<text class="lb" text-anchor="middle" x="263.35" y="433.25">Time (s)</text>
<text class="tt" text-anchor="middle" x="262.85" y="340.15">(d)</text>
</g>
<g id="ax4">
<clipPath id="cp4"><rect x="29.0" y="452.70" width="467.7" height="57.90"/></clipPath>
<path class="tkm" d="M29.50 510.00v-4.1M29.50 453.30v4.1M76.17 510.00v-4.1M76.17 453.30v4.1M122.84 510.00v-4.1M122.84 453.30v4.1M169.51 510.00v-4.1M169.51 453.30v4.1M216.18 510.00v-4.1M216.18 453.30v4.1M262.85 510.00v-4.1M262.85 453.30v4.1M309.52 510.00v-4.1M309.52 453.30v4.1M356.19 510.00v-4.1M356.19 453.30v4.1M402.86 510.00v-4.1M402.86 453.30v4.1M449.53 510.00v-4.1M449.53 453.30v4.1M496.20 510.00v-4.1M496.20 453.30v4.1M29.50 467.44h4.1M496.20 467.44h-4.1M29.50 496.36h4.1M496.20 496.36h-4.1"/>
<rect class="ax" x="29.5" y="453.30" width="466.70" height="56.70"/>
<g clip-path="url(#cp4)"><path class="ln" d="M29.50 481.90H216.18M391.19 481.90H496.20"/><path d="M216.18 452.98 L216.65 453.08 L217.11 453.37 L217.58 453.84 L218.05 454.51 L218.51 455.36 L218.98 456.38 L219.45 457.58 L219.91 458.94 L220.38 460.45 L220.85 462.10 L221.31 460.45 L221.78 458.94 L222.25 457.58 L222.71 456.38 L223.18 455.36 L223.65 454.51 L224.11 453.84 L224.58 453.37 L225.05 453.08 L225.51 452.98 L225.98 453.08 L226.45 453.37 L226.91 453.84 L227.38 454.51 L227.85 455.36 L228.31 456.38 L228.78 457.58 L229.25 458.94 L229.71 460.45 L230.18 462.10 L230.65 460.45 L231.11 458.94 L231.58 457.58 L232.05 456.38 L232.51 455.36 L232.98 454.51 L233.45 453.84 L233.91 453.37 L234.38 453.08 L234.85 452.98 L235.31 453.08 L235.78 453.37 L236.25 453.84 L236.71 454.51 L237.18 455.36 L237.65 456.38 L238.11 457.58 L238.58 458.94 L239.05 460.45 L239.51 462.10 L239.98 460.45 L240.45 458.94 L240.92 457.58 L241.38 456.38 L241.85 455.36 L242.32 454.51 L242.78 453.84 L243.25 453.37 L243.72 453.08 L244.18 452.98 L244.65 453.08 L245.12 453.37 L245.58 453.84 L246.05 454.51 L246.52 455.36 L246.98 456.38 L247.45 457.58 L247.92 458.94 L248.38 460.45 L248.85 462.10 L249.32 460.45 L249.78 458.94 L250.25 457.58 L250.72 456.38 L251.18 455.36 L251.65 454.51 L252.12 453.84 L252.58 453.37 L253.05 453.08 L253.52 452.98 L253.98 453.08 L254.45 453.37 L254.92 453.84 L255.38 454.51 L255.85 455.36 L256.32 456.38 L256.78 457.58 L257.25 458.94 L257.72 460.45 L258.18 462.10 L258.65 460.45 L259.12 458.94 L259.58 457.58 L260.05 456.38 L260.52 455.36 L260.98 454.51 L261.45 453.84 L261.92 453.37 L262.38 453.08 L262.85 452.98 L263.32 453.08 L263.78 453.37 L264.25 453.84 L264.72 454.51 L265.18 455.36 L265.65 456.38 L266.12 457.58 L266.58 458.94 L267.05 460.45 L267.52 462.10 L267.98 460.45 L268.45 458.94 L268.92 457.58 L269.38 456.38 L269.85 455.36 L270.32 454.51 L270.78 453.84 L271.25 453.37 L271.72 453.08 L272.18 452.98 L272.65 453.08 L273.12 453.37 L273.58 453.84 L274.05 454.51 L274.52 455.36 L274.98 456.38 L275.45 457.58 L275.92 458.94 L276.38 460.45 L276.85 462.10 L277.32 460.45 L277.78 458.94 L278.25 457.58 L278.72 456.38 L279.18 455.36 L279.65 454.51 L280.12 453.84 L280.58 453.37 L281.05 453.08 L281.52 452.98 L281.98 453.08 L282.45 453.37 L282.92 453.84 L283.38 454.51 L283.85 455.36 L284.32 456.38 L284.78 457.58 L285.25 458.94 L285.72 460.45 L286.18 462.10 L286.65 460.45 L287.12 458.94 L287.59 457.58 L288.05 456.38 L288.52 455.36 L288.99 454.51 L289.45 453.84 L289.92 453.37 L290.39 453.08 L290.85 452.98 L291.32 453.08 L291.79 453.37 L292.25 453.84 L292.72 454.51 L293.19 455.36 L293.65 456.38 L294.12 457.58 L294.59 458.94 L295.05 460.45 L295.52 462.10 L295.99 460.45 L296.45 458.94 L296.92 457.58 L297.39 456.38 L297.85 455.36 L298.32 454.51 L298.79 453.84 L299.25 453.37 L299.72 453.08 L300.19 452.98 L300.65 453.08 L301.12 453.37 L301.59 453.84 L302.05 454.51 L302.52 455.36 L302.99 456.38 L303.45 457.58 L303.92 458.94 L304.39 460.45 L304.85 462.10 L305.32 460.45 L305.79 458.94 L306.25 457.58 L306.72 456.38 L307.19 455.36 L307.65 454.51 L308.12 453.84 L308.59 453.37 L309.05 453.08 L309.52 452.98 L309.99 453.08 L310.45 453.37 L310.92 453.84 L311.39 454.51 L311.85 455.36 L312.32 456.38 L312.79 457.58 L313.25 458.94 L313.72 460.45 L314.19 462.10 L314.65 460.45 L315.12 458.94 L315.59 457.58 L316.05 456.38 L316.52 455.36 L316.99 454.51 L317.45 453.84 L317.92 453.37 L318.39 453.08 L318.85 452.98 L319.32 453.08 L319.79 453.37 L320.25 453.84 L320.72 454.51 L321.19 455.36 L321.65 456.38 L322.12 457.58 L322.59 458.94 L323.05 460.45 L323.52 462.10 L323.99 460.45 L324.45 458.94 L324.92 457.58 L325.39 456.38 L325.85 455.36 L326.32 454.51 L326.79 453.84 L327.25 453.37 L327.72 453.08 L328.19 452.98 L328.65 453.08 L329.12 453.37 L329.59 453.84 L330.05 454.51 L330.52 455.36 L330.99 456.38 L331.45 457.58 L331.92 458.94 L332.39 460.45 L332.85 462.10 L333.32 460.45 L333.79 458.94 L334.26 457.58 L334.72 456.38 L335.19 455.36 L335.66 454.51 L336.12 453.84 L336.59 453.37 L337.06 453.08 L337.52 452.98 L337.99 453.08 L338.46 453.37 L338.92 453.84 L339.39 454.51 L339.86 455.36 L340.32 456.38 L340.79 457.58 L341.26 458.94 L341.72 460.45 L342.19 462.10 L342.66 460.45 L343.12 458.94 L343.59 457.58 L344.06 456.38 L344.52 455.36 L344.99 454.51 L345.46 453.84 L345.92 453.37 L346.39 453.08 L346.86 452.98 L347.32 453.08 L347.79 453.37 L348.26 453.84 L348.72 454.51 L349.19 455.36 L349.66 456.38 L350.12 457.58 L350.59 458.94 L351.06 460.45 L351.52 462.10 L351.99 460.45 L352.46 458.94 L352.92 457.58 L353.39 456.38 L353.86 455.36 L354.32 454.51 L354.79 453.84 L355.26 453.37 L355.72 453.08 L356.19 452.98 L356.66 453.08 L357.12 453.37 L357.59 453.84 L358.06 454.51 L358.52 455.36 L358.99 456.38 L359.46 457.58 L359.92 458.94 L360.39 460.45 L360.86 462.10 L361.32 460.45 L361.79 458.94 L362.26 457.58 L362.72 456.38 L363.19 455.36 L363.66 454.51 L364.12 453.84 L364.59 453.37 L365.06 453.08 L365.52 452.98 L365.99 453.08 L366.46 453.37 L366.92 453.84 L367.39 454.51 L367.86 455.36 L368.32 456.38 L368.79 457.58 L369.26 458.94 L369.72 460.45 L370.19 462.10 L370.66 460.45 L371.12 458.94 L371.59 457.58 L372.06 456.38 L372.52 455.36 L372.99 454.51 L373.46 453.84 L373.92 453.37 L374.39 453.08 L374.86 452.98 L375.32 453.08 L375.79 453.37 L376.26 453.84 L376.72 454.51 L377.19 455.36 L377.66 456.38 L378.12 457.58 L378.59 458.94 L379.06 460.45 L379.52 462.10 L379.99 460.45 L380.46 458.94 L380.93 457.58 L381.39 456.38 L381.86 455.36 L382.33 454.51 L382.79 453.84 L383.26 453.37 L383.73 453.08 L384.19 452.98 L384.66 453.08 L385.13 453.37 L385.59 453.84 L386.06 454.51 L386.53 455.36 L386.99 456.38 L387.46 457.58 L387.93 458.94 L388.39 460.45 L388.86 462.10 L389.33 460.45 L389.79 458.94 L390.26 457.58 L390.73 456.38 L391.19 455.36 L391.19 508.44 L390.73 509.29 L390.26 509.96 L389.79 510.43 L389.33 510.72 L388.86 510.82 L388.39 510.72 L387.93 510.43 L387.46 509.96 L386.99 509.29 L386.53 508.44 L386.06 507.42 L385.59 506.22 L385.13 504.86 L384.66 503.35 L384.19 501.70 L383.73 503.35 L383.26 504.86 L382.79 506.22 L382.33 507.42 L381.86 508.44 L381.39 509.29 L380.93 509.96 L380.46 510.43 L379.99 510.72 L379.52 510.82 L379.06 510.72 L378.59 510.43 L378.12 509.96 L377.66 509.29 L377.19 508.44 L376.72 507.42 L376.26 506.22 L375.79 504.86 L375.32 503.35 L374.86 501.70 L374.39 503.35 L373.92 504.86 L373.46 506.22 L372.99 507.42 L372.52 508.44 L372.06 509.29 L371.59 509.96 L371.12 510.43 L370.66 510.72 L370.19 510.82 L369.72 510.72 L369.26 510.43 L368.79 509.96 L368.32 509.29 L367.86 508.44 L367.39 507.42 L366.92 506.22 L366.46 504.86 L365.99 503.35 L365.52 501.70 L365.06 503.35 L364.59 504.86 L364.12 506.22 L363.66 507.42 L363.19 508.44 L362.72 509.29 L362.26 509.96 L361.79 510.43 L361.32 510.72 L360.86 510.82 L360.39 510.72 L359.92 510.43 L359.46 509.96 L358.99 509.29 L358.52 508.44 L358.06 507.42 L357.59 506.22 L357.12 504.86 L356.66 503.35 L356.19 501.70 L355.72 503.35 L355.26 504.86 L354.79 506.22 L354.32 507.42 L353.86 508.44 L353.39 509.29 L352.92 509.96 L352.46 510.43 L351.99 510.72 L351.52 510.82 L351.06 510.72 L350.59 510.43 L350.12 509.96 L349.66 509.29 L349.19 508.44 L348.72 507.42 L348.26 506.22 L347.79 504.86 L347.32 503.35 L346.86 501.70 L346.39 503.35 L345.92 504.86 L345.46 506.22 L344.99 507.42 L344.52 508.44 L344.06 509.29 L343.59 509.96 L343.12 510.43 L342.66 510.72 L342.19 510.82 L341.72 510.72 L341.26 510.43 L340.79 509.96 L340.32 509.29 L339.86 508.44 L339.39 507.42 L338.92 506.22 L338.46 504.86 L337.99 503.35 L337.52 501.70 L337.06 503.35 L336.59 504.86 L336.12 506.22 L335.66 507.42 L335.19 508.44 L334.72 509.29 L334.26 509.96 L333.79 510.43 L333.32 510.72 L332.85 510.82 L332.39 510.72 L331.92 510.43 L331.45 509.96 L330.99 509.29 L330.52 508.44 L330.05 507.42 L329.59 506.22 L329.12 504.86 L328.65 503.35 L328.19 501.70 L327.72 503.35 L327.25 504.86 L326.79 506.22 L326.32 507.42 L325.85 508.44 L325.39 509.29 L324.92 509.96 L324.45 510.43 L323.99 510.72 L323.52 510.82 L323.05 510.72 L322.59 510.43 L322.12 509.96 L321.65 509.29 L321.19 508.44 L320.72 507.42 L320.25 506.22 L319.79 504.86 L319.32 503.35 L318.85 501.70 L318.39 503.35 L317.92 504.86 L317.45 506.22 L316.99 507.42 L316.52 508.44 L316.05 509.29 L315.59 509.96 L315.12 510.43 L314.65 510.72 L314.19 510.82 L313.72 510.72 L313.25 510.43 L312.79 509.96 L312.32 509.29 L311.85 508.44 L311.39 507.42 L310.92 506.22 L310.45 504.86 L309.99 503.35 L309.52 501.70 L309.05 503.35 L308.59 504.86 L308.12 506.22 L307.65 507.42 L307.19 508.44 L306.72 509.29 L306.25 509.96 L305.79 510.43 L305.32 510.72 L304.85 510.82 L304.39 510.72 L303.92 510.43 L303.45 509.96 L302.99 509.29 L302.52 508.44 L302.05 507.42 L301.59 506.22 L301.12 504.86 L300.65 503.35 L300.19 501.70 L299.72 503.35 L299.25 504.86 L298.79 506.22 L298.32 507.42 L297.85 508.44 L297.39 509.29 L296.92 509.96 L296.45 510.43 L295.99 510.72 L295.52 510.82 L295.05 510.72 L294.59 510.43 L294.12 509.96 L293.65 509.29 L293.19 508.44 L292.72 507.42 L292.25 506.22 L291.79 504.86 L291.32 503.35 L290.85 501.70 L290.39 503.35 L289.92 504.86 L289.45 506.22 L288.99 507.42 L288.52 508.44 L288.05 509.29 L287.59 509.96 L287.12 510.43 L286.65 510.72 L286.18 510.82 L285.72 510.72 L285.25 510.43 L284.78 509.96 L284.32 509.29 L283.85 508.44 L283.38 507.42 L282.92 506.22 L282.45 504.86 L281.98 503.35 L281.52 501.70 L281.05 503.35 L280.58 504.86 L280.12 506.22 L279.65 507.42 L279.18 508.44 L278.72 509.29 L278.25 509.96 L277.78 510.43 L277.32 510.72 L276.85 510.82 L276.38 510.72 L275.92 510.43 L275.45 509.96 L274.98 509.29 L274.52 508.44 L274.05 507.42 L273.58 506.22 L273.12 504.86 L272.65 503.35 L272.18 501.70 L271.72 503.35 L271.25 504.86 L270.78 506.22 L270.32 507.42 L269.85 508.44 L269.38 509.29 L268.92 509.96 L268.45 510.43 L267.98 510.72 L267.52 510.82 L267.05 510.72 L266.58 510.43 L266.12 509.96 L265.65 509.29 L265.18 508.44 L264.72 507.42 L264.25 506.22 L263.78 504.86 L263.32 503.35 L262.85 501.70 L262.38 503.35 L261.92 504.86 L261.45 506.22 L260.98 507.42 L260.52 508.44 L260.05 509.29 L259.58 509.96 L259.12 510.43 L258.65 510.72 L258.18 510.82 L257.72 510.72 L257.25 510.43 L256.78 509.96 L256.32 509.29 L255.85 508.44 L255.38 507.42 L254.92 506.22 L254.45 504.86 L253.98 503.35 L253.52 501.70 L253.05 503.35 L252.58 504.86 L252.12 506.22 L251.65 507.42 L251.18 508.44 L250.72 509.29 L250.25 509.96 L249.78 510.43 L249.32 510.72 L248.85 510.82 L248.38 510.72 L247.92 510.43 L247.45 509.96 L246.98 509.29 L246.52 508.44 L246.05 507.42 L245.58 506.22 L245.12 504.86 L244.65 503.35 L244.18 501.70 L243.72 503.35 L243.25 504.86 L242.78 506.22 L242.32 507.42 L241.85 508.44 L241.38 509.29 L240.92 509.96 L240.45 510.43 L239.98 510.72 L239.51 510.82 L239.05 510.72 L238.58 510.43 L238.11 509.96 L237.65 509.29 L237.18 508.44 L236.71 507.42 L236.25 506.22 L235.78 504.86 L235.31 503.35 L234.85 501.70 L234.38 503.35 L233.91 504.86 L233.45 506.22 L232.98 507.42 L232.51 508.44 L232.05 509.29 L231.58 509.96 L231.11 510.43 L230.65 510.72 L230.18 510.82 L229.71 510.72 L229.25 510.43 L228.78 509.96 L228.31 509.29 L227.85 508.44 L227.38 507.42 L226.91 506.22 L226.45 504.86 L225.98 503.35 L225.51 501.70 L225.05 503.35 L224.58 504.86 L224.11 506.22 L223.65 507.42 L223.18 508.44 L222.71 509.29 L222.25 509.96 L221.78 510.43 L221.31 510.72 L220.85 510.82 L220.38 510.72 L219.91 510.43 L219.45 509.96 L218.98 509.29 L218.51 508.44 L218.05 507.42 L217.58 506.22 L217.11 504.86 L216.65 503.35 L216.18 501.70Z" fill="#0072BD" fill-opacity="0.5" stroke="none"/><path class="ln" style="stroke-width:0.38" d="M216.18 452.98 L216.41 502.54 L216.65 471.25 L216.88 475.59 L217.11 502.98 L217.35 453.58 L217.58 506.22 L217.81 467.18 L218.05 480.08 L218.28 499.63 L218.51 455.36 L218.75 508.89 L218.98 463.47 L219.21 484.62 L219.45 495.83 L219.68 458.24 L219.91 510.43 L220.15 460.21 L220.38 489.09 L220.61 491.70 L220.85 462.10 L221.08 510.80 L221.31 460.45 L221.55 493.39 L221.78 487.32 L222.01 461.45 L222.25 509.96 L222.48 456.96 L222.71 497.40 L222.95 482.81 L223.18 464.90 L223.41 507.95 L223.65 454.51 L223.88 501.03 L224.11 478.28 L224.35 468.77 L224.58 504.86 L224.81 453.20 L225.05 503.35 L225.28 473.83 L225.51 472.96 L225.75 502.54 L225.98 453.08 L226.21 504.13 L226.45 469.59 L226.68 477.38 L226.91 501.70 L227.15 454.15 L227.38 507.42 L227.61 465.64 L227.85 481.90 L228.08 498.16 L228.31 456.38 L228.55 509.65 L228.78 462.10 L229.01 486.42 L229.25 494.21 L229.48 459.67 L229.71 510.72 L229.95 461.26 L230.18 490.84 L230.41 489.97 L230.65 460.45 L230.88 510.60 L231.11 458.94 L231.35 495.03 L231.58 485.52 L231.81 462.77 L232.05 509.29 L232.28 455.85 L232.51 498.90 L232.75 480.99 L232.98 466.40 L233.21 506.84 L233.45 453.84 L233.68 502.35 L233.91 476.48 L234.15 470.41 L234.38 503.35 L234.61 453.00 L234.85 501.70 L235.08 472.10 L235.31 474.71 L235.55 503.59 L235.78 453.37 L236.01 505.56 L236.25 467.97 L236.48 479.18 L236.71 500.33 L236.95 454.91 L237.18 508.44 L237.41 464.17 L237.65 483.72 L237.88 496.62 L238.11 457.58 L238.35 510.22 L238.58 460.82 L238.81 488.21 L239.05 492.55 L239.28 461.26 L239.51 510.82 L239.75 461.26 L239.98 492.55 L240.22 488.21 L240.45 460.82 L240.68 510.22 L240.92 457.58 L241.15 496.62 L241.38 483.72 L241.62 464.17 L241.85 508.44 L242.08 454.91 L242.32 500.33 L242.55 479.18 L242.78 467.97 L243.02 505.56 L243.25 453.37 L243.48 503.59 L243.72 474.71 L243.95 472.10 L244.18 501.70 L244.42 453.00 L244.65 503.35 L244.88 470.41 L245.12 476.48 L245.35 502.35 L245.58 453.84 L245.82 506.84 L246.05 466.40 L246.28 480.99 L246.52 498.90 L246.75 455.85 L246.98 509.29 L247.22 462.77 L247.45 485.52 L247.68 495.03 L247.92 458.94 L248.15 510.60 L248.38 460.45 L248.62 489.97 L248.85 490.84 L249.08 461.26 L249.32 510.72 L249.55 459.67 L249.78 494.21 L250.02 486.42 L250.25 462.10 L250.48 509.65 L250.72 456.38 L250.95 498.16 L251.18 481.90 L251.42 465.64 L251.65 507.42 L251.88 454.15 L252.12 501.70 L252.35 477.38 L252.58 469.59 L252.82 504.13 L253.05 453.08 L253.28 502.54 L253.52 472.96 L253.75 473.83 L253.98 503.35 L254.22 453.20 L254.45 504.86 L254.68 468.77 L254.92 478.28 L255.15 501.03 L255.38 454.51 L255.62 507.95 L255.85 464.90 L256.08 482.81 L256.32 497.40 L256.55 456.96 L256.78 509.96 L257.02 461.45 L257.25 487.32 L257.48 493.39 L257.72 460.45 L257.95 510.80 L258.18 462.10 L258.42 491.70 L258.65 489.09 L258.88 460.21 L259.12 510.43 L259.35 458.24 L259.58 495.83 L259.82 484.62 L260.05 463.47 L260.28 508.89 L260.52 455.36 L260.75 499.63 L260.98 480.08 L261.22 467.18 L261.45 506.22 L261.68 453.58 L261.92 502.98 L262.15 475.59 L262.38 471.25 L262.62 502.54 L262.85 452.98 L263.08 502.54 L263.32 471.25 L263.55 475.59 L263.78 502.98 L264.02 453.58 L264.25 506.22 L264.48 467.18 L264.72 480.08 L264.95 499.63 L265.18 455.36 L265.42 508.89 L265.65 463.47 L265.88 484.62 L266.12 495.83 L266.35 458.24 L266.58 510.43 L266.82 460.21 L267.05 489.09 L267.28 491.70 L267.52 462.10 L267.75 510.80 L267.98 460.45 L268.22 493.39 L268.45 487.32 L268.68 461.45 L268.92 509.96 L269.15 456.96 L269.38 497.40 L269.62 482.81 L269.85 464.90 L270.08 507.95 L270.32 454.51 L270.55 501.03 L270.78 478.28 L271.02 468.77 L271.25 504.86 L271.48 453.20 L271.72 503.35 L271.95 473.83 L272.18 472.96 L272.42 502.54 L272.65 453.08 L272.88 504.13 L273.12 469.59 L273.35 477.38 L273.58 501.70 L273.82 454.15 L274.05 507.42 L274.28 465.64 L274.52 481.90 L274.75 498.16 L274.98 456.38 L275.22 509.65 L275.45 462.10 L275.68 486.42 L275.92 494.21 L276.15 459.67 L276.38 510.72 L276.62 461.26 L276.85 490.84 L277.08 489.97 L277.32 460.45 L277.55 510.60 L277.78 458.94 L278.02 495.03 L278.25 485.52 L278.48 462.77 L278.72 509.29 L278.95 455.85 L279.18 498.90 L279.42 480.99 L279.65 466.40 L279.88 506.84 L280.12 453.84 L280.35 502.35 L280.58 476.48 L280.82 470.41 L281.05 503.35 L281.28 453.00 L281.52 501.70 L281.75 472.10 L281.98 474.71 L282.22 503.59 L282.45 453.37 L282.68 505.56 L282.92 467.97 L283.15 479.18 L283.38 500.33 L283.62 454.91 L283.85 508.44 L284.08 464.17 L284.32 483.72 L284.55 496.62 L284.78 457.58 L285.02 510.22 L285.25 460.82 L285.48 488.21 L285.72 492.55 L285.95 461.26 L286.19 510.82 L286.42 461.26 L286.65 492.55 L286.89 488.21 L287.12 460.82 L287.35 510.22 L287.59 457.58 L287.82 496.62 L288.05 483.72 L288.29 464.17 L288.52 508.44 L288.75 454.91 L288.99 500.33 L289.22 479.18 L289.45 467.97 L289.69 505.56 L289.92 453.37 L290.15 503.59 L290.39 474.71 L290.62 472.10 L290.85 501.70 L291.09 453.00 L291.32 503.35 L291.55 470.41 L291.79 476.48 L292.02 502.35 L292.25 453.84 L292.49 506.84 L292.72 466.40 L292.95 480.99 L293.19 498.90 L293.42 455.85 L293.65 509.29 L293.89 462.77 L294.12 485.52 L294.35 495.03 L294.59 458.94 L294.82 510.60 L295.05 460.45 L295.29 489.97 L295.52 490.84 L295.75 461.26 L295.99 510.72 L296.22 459.67 L296.45 494.21 L296.69 486.42 L296.92 462.10 L297.15 509.65 L297.39 456.38 L297.62 498.16 L297.85 481.90 L298.09 465.64 L298.32 507.42 L298.55 454.15 L298.79 501.70 L299.02 477.38 L299.25 469.59 L299.49 504.13 L299.72 453.08 L299.95 502.54 L300.19 472.96 L300.42 473.83 L300.65 503.35 L300.89 453.20 L301.12 504.86 L301.35 468.77 L301.59 478.28 L301.82 501.03 L302.05 454.51 L302.29 507.95 L302.52 464.90 L302.75 482.81 L302.99 497.40 L303.22 456.96 L303.45 509.96 L303.69 461.45 L303.92 487.32 L304.15 493.39 L304.39 460.45 L304.62 510.80 L304.85 462.10 L305.09 491.70 L305.32 489.09 L305.55 460.21 L305.79 510.43 L306.02 458.24 L306.25 495.83 L306.49 484.62 L306.72 463.47 L306.95 508.89 L307.19 455.36 L307.42 499.63 L307.65 480.08 L307.89 467.18 L308.12 506.22 L308.35 453.58 L308.59 502.98 L308.82 475.59 L309.05 471.25 L309.29 502.54 L309.52 452.98 L309.75 502.54 L309.99 471.25 L310.22 475.59 L310.45 502.98 L310.69 453.58 L310.92 506.22 L311.15 467.18 L311.39 480.08 L311.62 499.63 L311.85 455.36 L312.09 508.89 L312.32 463.47 L312.55 484.62 L312.79 495.83 L313.02 458.24 L313.25 510.43 L313.49 460.21 L313.72 489.09 L313.95 491.70 L314.19 462.10 L314.42 510.80 L314.65 460.45 L314.89 493.39 L315.12 487.32 L315.35 461.45 L315.59 509.96 L315.82 456.96 L316.05 497.40 L316.29 482.81 L316.52 464.90 L316.75 507.95 L316.99 454.51 L317.22 501.03 L317.45 478.28 L317.69 468.77 L317.92 504.86 L318.15 453.20 L318.39 503.35 L318.62 473.83 L318.85 472.96 L319.09 502.54 L319.32 453.08 L319.55 504.13 L319.79 469.59 L320.02 477.38 L320.25 501.70 L320.49 454.15 L320.72 507.42 L320.95 465.64 L321.19 481.90 L321.42 498.16 L321.65 456.38 L321.89 509.65 L322.12 462.10 L322.35 486.42 L322.59 494.21 L322.82 459.67 L323.05 510.72 L323.29 461.26 L323.52 490.84 L323.75 489.97 L323.99 460.45 L324.22 510.60 L324.45 458.94 L324.69 495.03 L324.92 485.52 L325.15 462.77 L325.39 509.29 L325.62 455.85 L325.85 498.90 L326.09 480.99 L326.32 466.40 L326.55 506.84 L326.79 453.84 L327.02 502.35 L327.25 476.48 L327.49 470.41 L327.72 503.35 L327.95 453.00 L328.19 501.70 L328.42 472.10 L328.65 474.71 L328.89 503.59 L329.12 453.37 L329.35 505.56 L329.59 467.97 L329.82 479.18 L330.05 500.33 L330.29 454.91 L330.52 508.44 L330.75 464.17 L330.99 483.72 L331.22 496.62 L331.45 457.58 L331.69 510.22 L331.92 460.82 L332.15 488.21 L332.39 492.55 L332.62 461.26 L332.86 510.82 L333.09 461.26 L333.32 492.55 L333.56 488.21 L333.79 460.82 L334.02 510.22 L334.26 457.58 L334.49 496.62 L334.72 483.72 L334.96 464.17 L335.19 508.44 L335.42 454.91 L335.66 500.33 L335.89 479.18 L336.12 467.97 L336.36 505.56 L336.59 453.37 L336.82 503.59 L337.06 474.71 L337.29 472.10 L337.52 501.70 L337.76 453.00 L337.99 503.35 L338.22 470.41 L338.46 476.48 L338.69 502.35 L338.92 453.84 L339.16 506.84 L339.39 466.40 L339.62 480.99 L339.86 498.90 L340.09 455.85 L340.32 509.29 L340.56 462.77 L340.79 485.52 L341.02 495.03 L341.26 458.94 L341.49 510.60 L341.72 460.45 L341.96 489.97 L342.19 490.84 L342.42 461.26 L342.66 510.72 L342.89 459.67 L343.12 494.21 L343.36 486.42 L343.59 462.10 L343.82 509.65 L344.06 456.38 L344.29 498.16 L344.52 481.90 L344.76 465.64 L344.99 507.42 L345.22 454.15 L345.46 501.70 L345.69 477.38 L345.92 469.59 L346.16 504.13 L346.39 453.08 L346.62 502.54 L346.86 472.96 L347.09 473.83 L347.32 503.35 L347.56 453.20 L347.79 504.86 L348.02 468.77 L348.26 478.28 L348.49 501.03 L348.72 454.51 L348.96 507.95 L349.19 464.90 L349.42 482.81 L349.66 497.40 L349.89 456.96 L350.12 509.96 L350.36 461.45 L350.59 487.32 L350.82 493.39 L351.06 460.45 L351.29 510.80 L351.52 462.10 L351.76 491.70 L351.99 489.09 L352.22 460.21 L352.46 510.43 L352.69 458.24 L352.92 495.83 L353.16 484.62 L353.39 463.47 L353.62 508.89 L353.86 455.36 L354.09 499.63 L354.32 480.08 L354.56 467.18 L354.79 506.22 L355.02 453.58 L355.26 502.98 L355.49 475.59 L355.72 471.25 L355.96 502.54 L356.19 452.98 L356.42 502.54 L356.66 471.25 L356.89 475.59 L357.12 502.98 L357.36 453.58 L357.59 506.22 L357.82 467.18 L358.06 480.08 L358.29 499.63 L358.52 455.36 L358.76 508.89 L358.99 463.47 L359.22 484.62 L359.46 495.83 L359.69 458.24 L359.92 510.43 L360.16 460.21 L360.39 489.09 L360.62 491.70 L360.86 462.10 L361.09 510.80 L361.32 460.45 L361.56 493.39 L361.79 487.32 L362.02 461.45 L362.26 509.96 L362.49 456.96 L362.72 497.40 L362.96 482.81 L363.19 464.90 L363.42 507.95 L363.66 454.51 L363.89 501.03 L364.12 478.28 L364.36 468.77 L364.59 504.86 L364.82 453.20 L365.06 503.35 L365.29 473.83 L365.52 472.96 L365.76 502.54 L365.99 453.08 L366.22 504.13 L366.46 469.59 L366.69 477.38 L366.92 501.70 L367.16 454.15 L367.39 507.42 L367.62 465.64 L367.86 481.90 L368.09 498.16 L368.32 456.38 L368.56 509.65 L368.79 462.10 L369.02 486.42 L369.26 494.21 L369.49 459.67 L369.72 510.72 L369.96 461.26 L370.19 490.84 L370.42 489.97 L370.66 460.45 L370.89 510.60 L371.12 458.94 L371.36 495.03 L371.59 485.52 L371.82 462.77 L372.06 509.29 L372.29 455.85 L372.52 498.90 L372.76 480.99 L372.99 466.40 L373.22 506.84 L373.46 453.84 L373.69 502.35 L373.92 476.48 L374.16 470.41 L374.39 503.35 L374.62 453.00 L374.86 501.70 L375.09 472.10 L375.32 474.71 L375.56 503.59 L375.79 453.37 L376.02 505.56 L376.26 467.97 L376.49 479.18 L376.72 500.33 L376.96 454.91 L377.19 508.44 L377.42 464.17 L377.66 483.72 L377.89 496.62 L378.12 457.58 L378.36 510.22 L378.59 460.82 L378.82 488.21 L379.06 492.55 L379.29 461.26 L379.52 510.82 L379.76 461.26 L379.99 492.55 L380.23 488.21 L380.46 460.82 L380.69 510.22 L380.93 457.58 L381.16 496.62 L381.39 483.72 L381.63 464.17 L381.86 508.44 L382.09 454.91 L382.33 500.33 L382.56 479.18 L382.79 467.97 L383.03 505.56 L383.26 453.37 L383.49 503.59 L383.73 474.71 L383.96 472.10 L384.19 501.70 L384.43 453.00 L384.66 503.35 L384.89 470.41 L385.13 476.48 L385.36 502.35 L385.59 453.84 L385.83 506.84 L386.06 466.40 L386.29 480.99 L386.53 498.90 L386.76 455.85 L386.99 509.29 L387.23 462.77 L387.46 485.52 L387.69 495.03 L387.93 458.94 L388.16 510.60 L388.39 460.45 L388.63 489.97 L388.86 490.84 L389.09 461.26 L389.33 510.72 L389.56 459.67 L389.79 494.21 L390.03 486.42 L390.26 462.10 L390.49 509.65 L390.73 456.38 L390.96 498.16 L391.19 481.90 L391.43 481.90"/></g>
<text class="tk" text-anchor="middle" x="29.50" y="526.50">0</text>
<text class="tk" text-anchor="middle" x="76.17" y="526.50">1</text>
<text class="tk" text-anchor="middle" x="122.84" y="526.50">2</text>
<text class="tk" text-anchor="middle" x="169.51" y="526.50">3</text>
<text class="tk" text-anchor="middle" x="216.18" y="526.50">4</text>
<text class="tk" text-anchor="middle" x="262.85" y="526.50">5</text>
<text class="tk" text-anchor="middle" x="309.52" y="526.50">6</text>
<text class="tk" text-anchor="middle" x="356.19" y="526.50">7</text>
<text class="tk" text-anchor="middle" x="402.86" y="526.50">8</text>
<text class="tk" text-anchor="middle" x="449.53" y="526.50">9</text>
<text class="tk" text-anchor="middle" x="496.20" y="526.50">10</text>
<text class="tk" text-anchor="end" x="23.0" y="472.04">0.2</text>
<text class="tk" text-anchor="end" x="23.0" y="486.50">0</text>
<text class="tk" text-anchor="end" x="23.0" y="500.96">-0.2</text>
<text class="tk" text-anchor="end" x="23.0" y="515.42">-0.4</text>
<text class="lb" text-anchor="middle" x="263.35" y="542.20">Time (s)</text>
<text class="tt" text-anchor="middle" x="262.85" y="449.10">(e)</text>
</g>
</svg></body></html>
